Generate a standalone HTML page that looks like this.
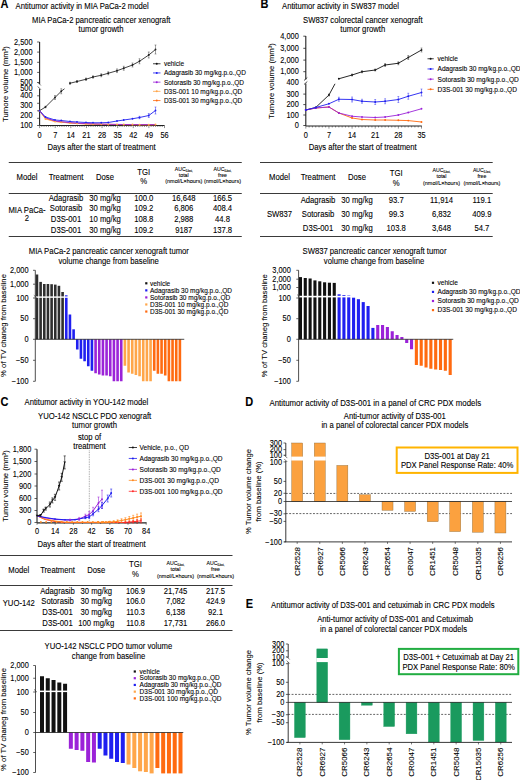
<!DOCTYPE html>
<html><head><meta charset="utf-8"><style>
html,body{margin:0;padding:0;background:#fff;width:520px;height:780px;overflow:hidden}
svg{display:block}
text{font-family:"Liberation Sans",sans-serif;fill:#000;stroke:#000;stroke-width:0.09px}
</style></head><body>
<svg width="520" height="780" viewBox="0 0 520 780">
<rect width="520" height="780" fill="#fff"/>
<text transform="translate(0.40,8.00) scale(1,1.1)" font-size="11" text-anchor="start" font-weight="bold" >A</text>
<text transform="translate(15.50,8.80) scale(1,1.1)" font-size="7.7" text-anchor="start" >Antitumor activity in MIA PaCa-2 model</text>
<text transform="translate(32.00,23.00) scale(1,1.1)" font-size="7.7" text-anchor="start" >MIA PaCa-2 pancreatic cancer xenograft</text>
<text transform="translate(101.00,32.00) scale(1,1.1)" font-size="7.7" text-anchor="middle" >tumor growth</text>
<line x1="39.60" y1="42.00" x2="39.60" y2="84.00" stroke="#222" stroke-width="1.1" />
<line x1="39.60" y1="89.00" x2="39.60" y2="125.50" stroke="#222" stroke-width="1.1" />
<line x1="37.80" y1="82.30" x2="40.80" y2="85.40" stroke="#222" stroke-width="0.7" />
<line x1="37.80" y1="86.50" x2="40.80" y2="89.60" stroke="#222" stroke-width="0.7" />
<line x1="37.10" y1="42.00" x2="39.60" y2="42.00" stroke="#222" stroke-width="0.7" />
<text transform="translate(32.50,44.60) scale(1,1.1)" font-size="7.4" text-anchor="end" >2,500</text>
<line x1="37.10" y1="52.10" x2="39.60" y2="52.10" stroke="#222" stroke-width="0.7" />
<text transform="translate(32.50,54.70) scale(1,1.1)" font-size="7.4" text-anchor="end" >2,000</text>
<line x1="37.10" y1="62.30" x2="39.60" y2="62.30" stroke="#222" stroke-width="0.7" />
<text transform="translate(32.50,64.90) scale(1,1.1)" font-size="7.4" text-anchor="end" >1,500</text>
<line x1="37.10" y1="72.40" x2="39.60" y2="72.40" stroke="#222" stroke-width="0.7" />
<text transform="translate(32.50,75.00) scale(1,1.1)" font-size="7.4" text-anchor="end" >1,000</text>
<line x1="37.10" y1="82.50" x2="39.60" y2="82.50" stroke="#222" stroke-width="0.7" />
<text transform="translate(32.50,85.10) scale(1,1.1)" font-size="7.4" text-anchor="end" >500</text>
<text transform="translate(32.50,91.40) scale(1,1.1)" font-size="7.4" text-anchor="end" >500</text>
<text transform="translate(32.50,98.20) scale(1,1.1)" font-size="7.4" text-anchor="end" >400</text>
<text transform="translate(32.50,108.00) scale(1,1.1)" font-size="7.4" text-anchor="end" >300</text>
<text transform="translate(32.50,118.00) scale(1,1.1)" font-size="7.4" text-anchor="end" >200</text>
<text transform="translate(32.50,127.80) scale(1,1.1)" font-size="7.4" text-anchor="end" >100</text>
<line x1="37.10" y1="95.80" x2="39.60" y2="95.80" stroke="#222" stroke-width="0.7" />
<line x1="37.10" y1="103.30" x2="39.60" y2="103.30" stroke="#222" stroke-width="0.7" />
<line x1="37.10" y1="110.80" x2="39.60" y2="110.80" stroke="#222" stroke-width="0.7" />
<line x1="37.10" y1="118.30" x2="39.60" y2="118.30" stroke="#222" stroke-width="0.7" />
<line x1="37.10" y1="125.50" x2="39.60" y2="125.50" stroke="#222" stroke-width="0.7" />
<text x="0" y="0" font-size="7.7" text-anchor="middle" transform="translate(8.30,84.00) rotate(-90)" >Tumore volume (mm³)</text>
<line x1="39.60" y1="125.50" x2="164.50" y2="125.50" stroke="#222" stroke-width="1.1" />
<line x1="39.60" y1="125.50" x2="39.60" y2="128.10" stroke="#222" stroke-width="0.5" />
<line x1="41.83" y1="125.50" x2="41.83" y2="127.00" stroke="#222" stroke-width="0.5" />
<line x1="44.06" y1="125.50" x2="44.06" y2="127.00" stroke="#222" stroke-width="0.5" />
<line x1="46.29" y1="125.50" x2="46.29" y2="127.00" stroke="#222" stroke-width="0.5" />
<line x1="48.52" y1="125.50" x2="48.52" y2="127.00" stroke="#222" stroke-width="0.5" />
<line x1="50.75" y1="125.50" x2="50.75" y2="127.00" stroke="#222" stroke-width="0.5" />
<line x1="52.98" y1="125.50" x2="52.98" y2="127.00" stroke="#222" stroke-width="0.5" />
<line x1="55.21" y1="125.50" x2="55.21" y2="128.10" stroke="#222" stroke-width="0.5" />
<line x1="57.44" y1="125.50" x2="57.44" y2="127.00" stroke="#222" stroke-width="0.5" />
<line x1="59.67" y1="125.50" x2="59.67" y2="127.00" stroke="#222" stroke-width="0.5" />
<line x1="61.90" y1="125.50" x2="61.90" y2="127.00" stroke="#222" stroke-width="0.5" />
<line x1="64.13" y1="125.50" x2="64.13" y2="127.00" stroke="#222" stroke-width="0.5" />
<line x1="66.36" y1="125.50" x2="66.36" y2="127.00" stroke="#222" stroke-width="0.5" />
<line x1="68.59" y1="125.50" x2="68.59" y2="127.00" stroke="#222" stroke-width="0.5" />
<line x1="70.83" y1="125.50" x2="70.83" y2="128.10" stroke="#222" stroke-width="0.5" />
<line x1="73.06" y1="125.50" x2="73.06" y2="127.00" stroke="#222" stroke-width="0.5" />
<line x1="75.29" y1="125.50" x2="75.29" y2="127.00" stroke="#222" stroke-width="0.5" />
<line x1="77.52" y1="125.50" x2="77.52" y2="127.00" stroke="#222" stroke-width="0.5" />
<line x1="79.75" y1="125.50" x2="79.75" y2="127.00" stroke="#222" stroke-width="0.5" />
<line x1="81.98" y1="125.50" x2="81.98" y2="127.00" stroke="#222" stroke-width="0.5" />
<line x1="84.21" y1="125.50" x2="84.21" y2="127.00" stroke="#222" stroke-width="0.5" />
<line x1="86.44" y1="125.50" x2="86.44" y2="128.10" stroke="#222" stroke-width="0.5" />
<line x1="88.67" y1="125.50" x2="88.67" y2="127.00" stroke="#222" stroke-width="0.5" />
<line x1="90.90" y1="125.50" x2="90.90" y2="127.00" stroke="#222" stroke-width="0.5" />
<line x1="93.13" y1="125.50" x2="93.13" y2="127.00" stroke="#222" stroke-width="0.5" />
<line x1="95.36" y1="125.50" x2="95.36" y2="127.00" stroke="#222" stroke-width="0.5" />
<line x1="97.59" y1="125.50" x2="97.59" y2="127.00" stroke="#222" stroke-width="0.5" />
<line x1="99.82" y1="125.50" x2="99.82" y2="127.00" stroke="#222" stroke-width="0.5" />
<line x1="102.05" y1="125.50" x2="102.05" y2="128.10" stroke="#222" stroke-width="0.5" />
<line x1="104.28" y1="125.50" x2="104.28" y2="127.00" stroke="#222" stroke-width="0.5" />
<line x1="106.51" y1="125.50" x2="106.51" y2="127.00" stroke="#222" stroke-width="0.5" />
<line x1="108.74" y1="125.50" x2="108.74" y2="127.00" stroke="#222" stroke-width="0.5" />
<line x1="110.97" y1="125.50" x2="110.97" y2="127.00" stroke="#222" stroke-width="0.5" />
<line x1="113.20" y1="125.50" x2="113.20" y2="127.00" stroke="#222" stroke-width="0.5" />
<line x1="115.43" y1="125.50" x2="115.43" y2="127.00" stroke="#222" stroke-width="0.5" />
<line x1="117.66" y1="125.50" x2="117.66" y2="128.10" stroke="#222" stroke-width="0.5" />
<line x1="119.89" y1="125.50" x2="119.89" y2="127.00" stroke="#222" stroke-width="0.5" />
<line x1="122.12" y1="125.50" x2="122.12" y2="127.00" stroke="#222" stroke-width="0.5" />
<line x1="124.35" y1="125.50" x2="124.35" y2="127.00" stroke="#222" stroke-width="0.5" />
<line x1="126.58" y1="125.50" x2="126.58" y2="127.00" stroke="#222" stroke-width="0.5" />
<line x1="128.81" y1="125.50" x2="128.81" y2="127.00" stroke="#222" stroke-width="0.5" />
<line x1="131.04" y1="125.50" x2="131.04" y2="127.00" stroke="#222" stroke-width="0.5" />
<line x1="133.28" y1="125.50" x2="133.28" y2="128.10" stroke="#222" stroke-width="0.5" />
<line x1="135.51" y1="125.50" x2="135.51" y2="127.00" stroke="#222" stroke-width="0.5" />
<line x1="137.74" y1="125.50" x2="137.74" y2="127.00" stroke="#222" stroke-width="0.5" />
<line x1="139.97" y1="125.50" x2="139.97" y2="127.00" stroke="#222" stroke-width="0.5" />
<line x1="142.20" y1="125.50" x2="142.20" y2="127.00" stroke="#222" stroke-width="0.5" />
<line x1="144.43" y1="125.50" x2="144.43" y2="127.00" stroke="#222" stroke-width="0.5" />
<line x1="146.66" y1="125.50" x2="146.66" y2="127.00" stroke="#222" stroke-width="0.5" />
<line x1="148.89" y1="125.50" x2="148.89" y2="128.10" stroke="#222" stroke-width="0.5" />
<line x1="151.12" y1="125.50" x2="151.12" y2="127.00" stroke="#222" stroke-width="0.5" />
<line x1="153.35" y1="125.50" x2="153.35" y2="127.00" stroke="#222" stroke-width="0.5" />
<line x1="155.58" y1="125.50" x2="155.58" y2="127.00" stroke="#222" stroke-width="0.5" />
<line x1="157.81" y1="125.50" x2="157.81" y2="127.00" stroke="#222" stroke-width="0.5" />
<line x1="160.04" y1="125.50" x2="160.04" y2="127.00" stroke="#222" stroke-width="0.5" />
<line x1="162.27" y1="125.50" x2="162.27" y2="127.00" stroke="#222" stroke-width="0.5" />
<line x1="164.50" y1="125.50" x2="164.50" y2="128.10" stroke="#222" stroke-width="0.5" />
<text transform="translate(39.60,137.50) scale(1,1.1)" font-size="7.4" text-anchor="middle" >0</text>
<text transform="translate(55.21,137.50) scale(1,1.1)" font-size="7.4" text-anchor="middle" >7</text>
<text transform="translate(70.83,137.50) scale(1,1.1)" font-size="7.4" text-anchor="middle" >14</text>
<text transform="translate(86.44,137.50) scale(1,1.1)" font-size="7.4" text-anchor="middle" >21</text>
<text transform="translate(102.05,137.50) scale(1,1.1)" font-size="7.4" text-anchor="middle" >28</text>
<text transform="translate(117.66,137.50) scale(1,1.1)" font-size="7.4" text-anchor="middle" >35</text>
<text transform="translate(133.28,137.50) scale(1,1.1)" font-size="7.4" text-anchor="middle" >42</text>
<text transform="translate(148.89,137.50) scale(1,1.1)" font-size="7.4" text-anchor="middle" >49</text>
<text transform="translate(164.50,137.50) scale(1,1.1)" font-size="7.4" text-anchor="middle" >56</text>
<text transform="translate(47.50,150.00) scale(1,1.1)" font-size="7.7" text-anchor="start" >Days after the start of treatment</text>
<polyline points="39.50,110.75 45.50,107.00 55.00,97.50 61.25,91.25 64.50,88.75" fill="none" stroke="#111" stroke-width="0.8" stroke-linejoin="round" />
<polyline points="70.00,83.25 77.00,81.50 86.00,79.25 93.00,77.00 101.25,75.25 108.25,73.25 117.00,70.75 123.75,68.25 132.50,65.00 139.50,61.25 148.75,55.00 155.50,49.50" fill="none" stroke="#111" stroke-width="0.8" stroke-linejoin="round" />
<circle cx="39.50" cy="110.75" r="0.9" fill="#111"/>
<circle cx="45.50" cy="107.00" r="0.9" fill="#111"/>
<line x1="45.50" y1="106.20" x2="45.50" y2="107.80" stroke="#333" stroke-width="0.45" />
<line x1="44.60" y1="106.20" x2="46.40" y2="106.20" stroke="#333" stroke-width="0.45" />
<line x1="44.60" y1="107.80" x2="46.40" y2="107.80" stroke="#333" stroke-width="0.45" />
<circle cx="55.00" cy="97.50" r="0.9" fill="#111"/>
<line x1="55.00" y1="95.50" x2="55.00" y2="99.50" stroke="#333" stroke-width="0.45" />
<line x1="54.10" y1="95.50" x2="55.90" y2="95.50" stroke="#333" stroke-width="0.45" />
<line x1="54.10" y1="99.50" x2="55.90" y2="99.50" stroke="#333" stroke-width="0.45" />
<circle cx="61.25" cy="91.25" r="0.9" fill="#111"/>
<line x1="61.25" y1="88.75" x2="61.25" y2="93.75" stroke="#333" stroke-width="0.45" />
<line x1="60.35" y1="88.75" x2="62.15" y2="88.75" stroke="#333" stroke-width="0.45" />
<line x1="60.35" y1="93.75" x2="62.15" y2="93.75" stroke="#333" stroke-width="0.45" />
<circle cx="70.00" cy="83.25" r="0.9" fill="#111"/>
<line x1="70.00" y1="82.25" x2="70.00" y2="84.25" stroke="#333" stroke-width="0.45" />
<line x1="69.10" y1="82.25" x2="70.90" y2="82.25" stroke="#333" stroke-width="0.45" />
<line x1="69.10" y1="84.25" x2="70.90" y2="84.25" stroke="#333" stroke-width="0.45" />
<circle cx="77.00" cy="81.50" r="0.9" fill="#111"/>
<line x1="77.00" y1="80.50" x2="77.00" y2="82.50" stroke="#333" stroke-width="0.45" />
<line x1="76.10" y1="80.50" x2="77.90" y2="80.50" stroke="#333" stroke-width="0.45" />
<line x1="76.10" y1="82.50" x2="77.90" y2="82.50" stroke="#333" stroke-width="0.45" />
<circle cx="86.00" cy="79.25" r="0.9" fill="#111"/>
<line x1="86.00" y1="78.05" x2="86.00" y2="80.45" stroke="#333" stroke-width="0.45" />
<line x1="85.10" y1="78.05" x2="86.90" y2="78.05" stroke="#333" stroke-width="0.45" />
<line x1="85.10" y1="80.45" x2="86.90" y2="80.45" stroke="#333" stroke-width="0.45" />
<circle cx="93.00" cy="77.00" r="0.9" fill="#111"/>
<line x1="93.00" y1="75.80" x2="93.00" y2="78.20" stroke="#333" stroke-width="0.45" />
<line x1="92.10" y1="75.80" x2="93.90" y2="75.80" stroke="#333" stroke-width="0.45" />
<line x1="92.10" y1="78.20" x2="93.90" y2="78.20" stroke="#333" stroke-width="0.45" />
<circle cx="101.25" cy="75.25" r="0.9" fill="#111"/>
<line x1="101.25" y1="73.75" x2="101.25" y2="76.75" stroke="#333" stroke-width="0.45" />
<line x1="100.35" y1="73.75" x2="102.15" y2="73.75" stroke="#333" stroke-width="0.45" />
<line x1="100.35" y1="76.75" x2="102.15" y2="76.75" stroke="#333" stroke-width="0.45" />
<circle cx="108.25" cy="73.25" r="0.9" fill="#111"/>
<line x1="108.25" y1="71.75" x2="108.25" y2="74.75" stroke="#333" stroke-width="0.45" />
<line x1="107.35" y1="71.75" x2="109.15" y2="71.75" stroke="#333" stroke-width="0.45" />
<line x1="107.35" y1="74.75" x2="109.15" y2="74.75" stroke="#333" stroke-width="0.45" />
<circle cx="117.00" cy="70.75" r="0.9" fill="#111"/>
<line x1="117.00" y1="68.95" x2="117.00" y2="72.55" stroke="#333" stroke-width="0.45" />
<line x1="116.10" y1="68.95" x2="117.90" y2="68.95" stroke="#333" stroke-width="0.45" />
<line x1="116.10" y1="72.55" x2="117.90" y2="72.55" stroke="#333" stroke-width="0.45" />
<circle cx="123.75" cy="68.25" r="0.9" fill="#111"/>
<line x1="123.75" y1="66.25" x2="123.75" y2="70.25" stroke="#333" stroke-width="0.45" />
<line x1="122.85" y1="66.25" x2="124.65" y2="66.25" stroke="#333" stroke-width="0.45" />
<line x1="122.85" y1="70.25" x2="124.65" y2="70.25" stroke="#333" stroke-width="0.45" />
<circle cx="132.50" cy="65.00" r="0.9" fill="#111"/>
<line x1="132.50" y1="63.00" x2="132.50" y2="67.00" stroke="#333" stroke-width="0.45" />
<line x1="131.60" y1="63.00" x2="133.40" y2="63.00" stroke="#333" stroke-width="0.45" />
<line x1="131.60" y1="67.00" x2="133.40" y2="67.00" stroke="#333" stroke-width="0.45" />
<circle cx="139.50" cy="61.25" r="0.9" fill="#111"/>
<line x1="139.50" y1="58.75" x2="139.50" y2="63.75" stroke="#333" stroke-width="0.45" />
<line x1="138.60" y1="58.75" x2="140.40" y2="58.75" stroke="#333" stroke-width="0.45" />
<line x1="138.60" y1="63.75" x2="140.40" y2="63.75" stroke="#333" stroke-width="0.45" />
<circle cx="148.75" cy="55.00" r="0.9" fill="#111"/>
<line x1="148.75" y1="52.00" x2="148.75" y2="58.00" stroke="#333" stroke-width="0.45" />
<line x1="147.85" y1="52.00" x2="149.65" y2="52.00" stroke="#333" stroke-width="0.45" />
<line x1="147.85" y1="58.00" x2="149.65" y2="58.00" stroke="#333" stroke-width="0.45" />
<circle cx="155.50" cy="49.50" r="0.9" fill="#111"/>
<line x1="155.50" y1="45.00" x2="155.50" y2="54.00" stroke="#333" stroke-width="0.45" />
<line x1="154.60" y1="45.00" x2="156.40" y2="45.00" stroke="#333" stroke-width="0.45" />
<line x1="154.60" y1="54.00" x2="156.40" y2="54.00" stroke="#333" stroke-width="0.45" />
<polyline points="39.50,110.75 45.50,118.50 55.00,121.30 61.25,122.00 70.00,122.90 77.00,123.40 86.00,123.80 93.00,124.10 101.25,124.30 108.25,124.40 117.00,124.50 123.75,124.60 132.50,124.70 139.50,124.70 148.75,124.80 155.50,124.80" fill="none" stroke="#ff6a10" stroke-width="0.9" stroke-linejoin="round" />
<polyline points="39.50,110.75 45.50,119.00 55.00,121.60 61.25,122.20 70.00,123.00 77.00,123.50 86.00,123.90 93.00,124.20 101.25,124.30 108.25,124.40 117.00,124.50 123.75,124.60 132.50,124.60 139.50,124.70 148.75,124.70 155.50,124.50" fill="none" stroke="#ffa64a" stroke-width="0.9" stroke-linejoin="round" />
<polyline points="39.50,110.75 45.50,117.80 55.00,121.00 61.25,121.80 70.00,122.60 77.00,123.20 86.00,123.60 93.00,123.90 101.25,124.10 108.25,124.30 117.00,124.40 123.75,124.50 132.50,124.60 139.50,124.60 148.75,124.60 155.50,124.60" fill="none" stroke="#9b22d8" stroke-width="0.9" stroke-linejoin="round" />
<polyline points="39.50,110.75 45.50,117.00 55.00,120.00 61.25,120.50 70.00,121.50 77.00,122.00 86.00,122.50 93.00,122.75 101.25,122.75 108.25,122.50 117.00,121.00 123.75,120.00 132.50,118.75 139.50,117.50 148.75,115.50 155.50,110.50" fill="none" stroke="#1f1ff0" stroke-width="0.9" stroke-linejoin="round" />
<circle cx="39.50" cy="110.75" r="1.0" fill="#ffa64a"/>
<circle cx="45.50" cy="119.00" r="1.0" fill="#ffa64a"/>
<circle cx="55.00" cy="121.60" r="1.0" fill="#ffa64a"/>
<circle cx="61.25" cy="122.20" r="1.0" fill="#ffa64a"/>
<circle cx="70.00" cy="123.00" r="1.0" fill="#ffa64a"/>
<circle cx="77.00" cy="123.50" r="1.0" fill="#ffa64a"/>
<circle cx="86.00" cy="123.90" r="1.0" fill="#ffa64a"/>
<circle cx="93.00" cy="124.20" r="1.0" fill="#ffa64a"/>
<circle cx="101.25" cy="124.30" r="1.0" fill="#ffa64a"/>
<circle cx="108.25" cy="124.40" r="1.0" fill="#ffa64a"/>
<circle cx="117.00" cy="124.50" r="1.0" fill="#ffa64a"/>
<circle cx="123.75" cy="124.60" r="1.0" fill="#ffa64a"/>
<circle cx="132.50" cy="124.60" r="1.0" fill="#ffa64a"/>
<circle cx="139.50" cy="124.70" r="1.0" fill="#ffa64a"/>
<circle cx="148.75" cy="124.70" r="1.0" fill="#ffa64a"/>
<circle cx="155.50" cy="124.50" r="1.0" fill="#ffa64a"/>
<circle cx="39.50" cy="110.75" r="0.9" fill="#1f1ff0"/>
<circle cx="45.50" cy="117.00" r="0.9" fill="#1f1ff0"/>
<circle cx="55.00" cy="120.00" r="0.9" fill="#1f1ff0"/>
<circle cx="61.25" cy="120.50" r="0.9" fill="#1f1ff0"/>
<circle cx="70.00" cy="121.50" r="0.9" fill="#1f1ff0"/>
<circle cx="77.00" cy="122.00" r="0.9" fill="#1f1ff0"/>
<circle cx="86.00" cy="122.50" r="0.9" fill="#1f1ff0"/>
<circle cx="93.00" cy="122.75" r="0.9" fill="#1f1ff0"/>
<circle cx="101.25" cy="122.75" r="0.9" fill="#1f1ff0"/>
<circle cx="108.25" cy="122.50" r="0.9" fill="#1f1ff0"/>
<circle cx="117.00" cy="121.00" r="0.9" fill="#1f1ff0"/>
<circle cx="123.75" cy="120.00" r="0.9" fill="#1f1ff0"/>
<circle cx="132.50" cy="118.75" r="0.9" fill="#1f1ff0"/>
<circle cx="139.50" cy="117.50" r="0.9" fill="#1f1ff0"/>
<circle cx="148.75" cy="115.50" r="0.9" fill="#1f1ff0"/>
<circle cx="155.50" cy="110.50" r="0.9" fill="#1f1ff0"/>
<line x1="148.75" y1="113.50" x2="148.75" y2="117.50" stroke="#1f1ff0" stroke-width="0.45" />
<line x1="147.85" y1="113.50" x2="149.65" y2="113.50" stroke="#1f1ff0" stroke-width="0.45" />
<line x1="147.85" y1="117.50" x2="149.65" y2="117.50" stroke="#1f1ff0" stroke-width="0.45" />
<line x1="155.50" y1="107.00" x2="155.50" y2="114.00" stroke="#1f1ff0" stroke-width="0.45" />
<line x1="154.60" y1="107.00" x2="156.40" y2="107.00" stroke="#1f1ff0" stroke-width="0.45" />
<line x1="154.60" y1="114.00" x2="156.40" y2="114.00" stroke="#1f1ff0" stroke-width="0.45" />
<line x1="139.50" y1="116.30" x2="139.50" y2="118.70" stroke="#1f1ff0" stroke-width="0.45" />
<line x1="138.60" y1="116.30" x2="140.40" y2="116.30" stroke="#1f1ff0" stroke-width="0.45" />
<line x1="138.60" y1="118.70" x2="140.40" y2="118.70" stroke="#1f1ff0" stroke-width="0.45" />
<line x1="153.00" y1="63.75" x2="160.50" y2="63.75" stroke="#111" stroke-width="0.8" />
<circle cx="156.75" cy="63.75" r="1.0" fill="#111"/>
<text transform="translate(163.90,66.15) scale(1,1.1)" font-size="6.5" text-anchor="start" >vehicle</text>
<line x1="153.00" y1="72.95" x2="160.50" y2="72.95" stroke="#1f1ff0" stroke-width="0.8" />
<circle cx="156.75" cy="72.95" r="1.0" fill="#1f1ff0"/>
<text transform="translate(163.90,75.35) scale(1,1.1)" font-size="6.5" text-anchor="start" >Adagrasib 30 mg/kg.p.o.,QD</text>
<line x1="153.00" y1="82.15" x2="160.50" y2="82.15" stroke="#9b22d8" stroke-width="0.8" />
<circle cx="156.75" cy="82.15" r="1.0" fill="#9b22d8"/>
<text transform="translate(163.90,84.55) scale(1,1.1)" font-size="6.5" text-anchor="start" >Sotorasib 30 mg/kg.p.o.,QD</text>
<line x1="153.00" y1="91.35" x2="160.50" y2="91.35" stroke="#ffa64a" stroke-width="0.8" />
<circle cx="156.75" cy="91.35" r="1.0" fill="#ffa64a"/>
<text transform="translate(163.90,93.75) scale(1,1.1)" font-size="6.5" text-anchor="start" >D3S-001 10 mg/kg.p.o.,QD</text>
<line x1="153.00" y1="100.55" x2="160.50" y2="100.55" stroke="#ff6a10" stroke-width="0.8" />
<circle cx="156.75" cy="100.55" r="1.0" fill="#ff6a10"/>
<text transform="translate(163.90,102.95) scale(1,1.1)" font-size="6.5" text-anchor="start" >D3S-001 30 mg/kg.p.o.,QD</text>
<line x1="8.75" y1="162.50" x2="241.75" y2="162.50" stroke="#3a3a3a" stroke-width="1.0" />
<line x1="8.75" y1="193.50" x2="241.75" y2="193.50" stroke="#3a3a3a" stroke-width="1.0" />
<line x1="8.75" y1="236.50" x2="241.75" y2="236.50" stroke="#3a3a3a" stroke-width="1.0" />
<text transform="translate(27.00,179.50) scale(1,1.1)" font-size="7.7" text-anchor="middle" >Model</text>
<text transform="translate(66.00,179.50) scale(1,1.1)" font-size="7.7" text-anchor="middle" >Treatment</text>
<text transform="translate(105.00,179.50) scale(1,1.1)" font-size="7.7" text-anchor="middle" >Dose</text>
<text transform="translate(143.75,175.00) scale(1,1.1)" font-size="7.7" text-anchor="middle" >TGI</text>
<text transform="translate(143.75,183.75) scale(1,1.1)" font-size="7.7" text-anchor="middle" >%</text>
<text transform="translate(183.75,170.50) scale(1,1.1)" font-size="5.2" text-anchor="middle">AUC<tspan font-size="2.6" dy="1">0-last,</tspan></text>
<text transform="translate(183.75,176.50) scale(1,1.1)" font-size="5.2" text-anchor="middle" >total</text>
<text transform="translate(183.75,183.30) scale(1,1.1)" font-size="5.5" text-anchor="middle" >(nmol/L×hours)</text>
<text transform="translate(222.50,170.50) scale(1,1.1)" font-size="5.2" text-anchor="middle">AUC<tspan font-size="2.6" dy="1">0-last,</tspan></text>
<text transform="translate(222.50,176.50) scale(1,1.1)" font-size="5.2" text-anchor="middle" >free</text>
<text transform="translate(222.50,183.30) scale(1,1.1)" font-size="5.5" text-anchor="middle" >(nmol/L×hours)</text>
<text transform="translate(66.00,200.50) scale(1,1.1)" font-size="7.7" text-anchor="middle" >Adagrasib</text>
<text transform="translate(105.00,200.50) scale(1,1.1)" font-size="7.7" text-anchor="middle" >30 mg/kg</text>
<text transform="translate(143.75,200.50) scale(1,1.1)" font-size="7.7" text-anchor="middle" >100.0</text>
<text transform="translate(183.75,200.50) scale(1,1.1)" font-size="7.7" text-anchor="middle" >16,648</text>
<text transform="translate(222.50,200.50) scale(1,1.1)" font-size="7.7" text-anchor="middle" >166.5</text>
<text transform="translate(66.00,211.25) scale(1,1.1)" font-size="7.7" text-anchor="middle" >Sotorasib</text>
<text transform="translate(105.00,211.25) scale(1,1.1)" font-size="7.7" text-anchor="middle" >30 mg/kg</text>
<text transform="translate(143.75,211.25) scale(1,1.1)" font-size="7.7" text-anchor="middle" >109.2</text>
<text transform="translate(183.75,211.25) scale(1,1.1)" font-size="7.7" text-anchor="middle" >6,806</text>
<text transform="translate(222.50,211.25) scale(1,1.1)" font-size="7.7" text-anchor="middle" >408.4</text>
<text transform="translate(66.00,222.00) scale(1,1.1)" font-size="7.7" text-anchor="middle" >D3S-001</text>
<text transform="translate(105.00,222.00) scale(1,1.1)" font-size="7.7" text-anchor="middle" >10 mg/kg</text>
<text transform="translate(143.75,222.00) scale(1,1.1)" font-size="7.7" text-anchor="middle" >108.8</text>
<text transform="translate(183.75,222.00) scale(1,1.1)" font-size="7.7" text-anchor="middle" >2,988</text>
<text transform="translate(222.50,222.00) scale(1,1.1)" font-size="7.7" text-anchor="middle" >44.8</text>
<text transform="translate(66.00,233.00) scale(1,1.1)" font-size="7.7" text-anchor="middle" >D3S-001</text>
<text transform="translate(105.00,233.00) scale(1,1.1)" font-size="7.7" text-anchor="middle" >30 mg/kg</text>
<text transform="translate(143.75,233.00) scale(1,1.1)" font-size="7.7" text-anchor="middle" >109.2</text>
<text transform="translate(183.75,233.00) scale(1,1.1)" font-size="7.7" text-anchor="middle" >9187</text>
<text transform="translate(222.50,233.00) scale(1,1.1)" font-size="7.7" text-anchor="middle" >137.8</text>
<text transform="translate(27.00,212.50) scale(1,1.1)" font-size="7.7" text-anchor="middle" >MIA PaCa-</text>
<text transform="translate(27.00,221.25) scale(1,1.1)" font-size="7.7" text-anchor="middle" >2</text>
<text transform="translate(28.75,254.20) scale(1,1.1)" font-size="7.7" text-anchor="start" >MIA PaCa-2 pancreatic cancer xenograft tumor</text>
<text transform="translate(108.70,263.60) scale(1,1.1)" font-size="7.7" text-anchor="middle" >volume change from baseline</text>
<line x1="33.00" y1="270.30" x2="35.30" y2="270.30" stroke="#222" stroke-width="0.7" />
<text transform="translate(28.50,272.90) scale(1,1.1)" font-size="7.4" text-anchor="end" >2,000</text>
<line x1="33.00" y1="284.20" x2="35.30" y2="284.20" stroke="#222" stroke-width="0.7" />
<text transform="translate(28.50,286.80) scale(1,1.1)" font-size="7.4" text-anchor="end" >1,000</text>
<line x1="33.00" y1="298.00" x2="35.30" y2="298.00" stroke="#222" stroke-width="0.7" />
<text transform="translate(28.50,300.60) scale(1,1.1)" font-size="7.4" text-anchor="end" >100</text>
<line x1="33.00" y1="318.70" x2="35.30" y2="318.70" stroke="#222" stroke-width="0.7" />
<text transform="translate(28.50,321.30) scale(1,1.1)" font-size="7.4" text-anchor="end" >50</text>
<line x1="33.00" y1="339.30" x2="35.30" y2="339.30" stroke="#222" stroke-width="0.7" />
<text transform="translate(28.50,341.90) scale(1,1.1)" font-size="7.4" text-anchor="end" >0</text>
<line x1="33.00" y1="360.30" x2="35.30" y2="360.30" stroke="#222" stroke-width="0.7" />
<text transform="translate(28.50,362.90) scale(1,1.1)" font-size="7.4" text-anchor="end" >−50</text>
<line x1="33.00" y1="381.30" x2="35.30" y2="381.30" stroke="#222" stroke-width="0.7" />
<text transform="translate(28.50,383.90) scale(1,1.1)" font-size="7.4" text-anchor="end" >−100</text>
<rect x="35.65" y="274.50" width="2.60" height="64.80" fill="#2e2e2e" />
<rect x="39.31" y="281.90" width="2.60" height="57.40" fill="#2e2e2e" />
<rect x="42.98" y="284.00" width="2.60" height="55.30" fill="#2e2e2e" />
<rect x="46.64" y="284.00" width="2.60" height="55.30" fill="#2e2e2e" />
<rect x="50.31" y="284.20" width="2.60" height="55.10" fill="#2e2e2e" />
<rect x="53.97" y="284.60" width="2.60" height="54.70" fill="#2e2e2e" />
<rect x="57.64" y="285.80" width="2.60" height="53.50" fill="#2e2e2e" />
<rect x="61.30" y="292.00" width="2.60" height="47.30" fill="#2e2e2e" />
<rect x="64.97" y="295.30" width="2.60" height="44.00" fill="#1f1ff0" />
<rect x="68.63" y="314.50" width="2.60" height="24.80" fill="#1f1ff0" />
<rect x="72.30" y="329.30" width="2.60" height="10.00" fill="#1f1ff0" />
<rect x="75.97" y="339.30" width="2.60" height="10.20" fill="#1f1ff0" />
<rect x="79.63" y="339.30" width="2.60" height="19.45" fill="#1f1ff0" />
<rect x="83.30" y="339.30" width="2.60" height="21.95" fill="#1f1ff0" />
<rect x="86.96" y="339.30" width="2.60" height="26.95" fill="#1f1ff0" />
<rect x="90.62" y="339.30" width="2.60" height="31.45" fill="#1f1ff0" />
<rect x="94.29" y="339.30" width="2.60" height="33.95" fill="#9b22d8" />
<rect x="97.95" y="339.30" width="2.60" height="35.20" fill="#9b22d8" />
<rect x="101.62" y="339.30" width="2.60" height="36.20" fill="#9b22d8" />
<rect x="105.28" y="339.30" width="2.60" height="36.20" fill="#9b22d8" />
<rect x="108.95" y="339.30" width="2.60" height="36.95" fill="#9b22d8" />
<rect x="112.62" y="339.30" width="2.60" height="41.95" fill="#9b22d8" />
<rect x="116.28" y="339.30" width="2.60" height="41.95" fill="#9b22d8" />
<rect x="119.94" y="339.30" width="2.60" height="41.95" fill="#9b22d8" />
<rect x="123.61" y="339.30" width="2.60" height="26.45" fill="#ffa64a" />
<rect x="127.28" y="339.30" width="2.60" height="33.20" fill="#ffa64a" />
<rect x="130.94" y="339.30" width="2.60" height="34.45" fill="#ffa64a" />
<rect x="134.60" y="339.30" width="2.60" height="35.70" fill="#ffa64a" />
<rect x="138.27" y="339.30" width="2.60" height="36.95" fill="#ffa64a" />
<rect x="141.94" y="339.30" width="2.60" height="41.95" fill="#ffa64a" />
<rect x="145.60" y="339.30" width="2.60" height="41.95" fill="#ffa64a" />
<rect x="149.26" y="339.30" width="2.60" height="41.95" fill="#ffa64a" />
<rect x="152.93" y="339.30" width="2.60" height="31.45" fill="#ff6a10" />
<rect x="156.59" y="339.30" width="2.60" height="34.45" fill="#ff6a10" />
<rect x="160.26" y="339.30" width="2.60" height="34.45" fill="#ff6a10" />
<rect x="163.93" y="339.30" width="2.60" height="36.20" fill="#ff6a10" />
<rect x="167.59" y="339.30" width="2.60" height="41.95" fill="#ff6a10" />
<rect x="171.25" y="339.30" width="2.60" height="41.95" fill="#ff6a10" />
<rect x="174.92" y="339.30" width="2.60" height="41.95" fill="#ff6a10" />
<rect x="178.59" y="339.30" width="2.60" height="41.95" fill="#ff6a10" />
<rect x="35.30" y="296.40" width="33.20" height="1.40" fill="#fff" />
<line x1="35.30" y1="270.30" x2="35.30" y2="381.30" stroke="#222" stroke-width="0.8" />
<line x1="33.80" y1="295.20" x2="36.80" y2="298.00" stroke="#222" stroke-width="0.6" />
<line x1="35.30" y1="339.30" x2="184.25" y2="339.30" stroke="#222" stroke-width="0.8" />
<text x="0" y="0" font-size="7.7" text-anchor="middle" transform="translate(5.90,325.50) rotate(-90)" >% of TV chaneg from baseline</text>
<rect x="145.20" y="282.20" width="2.20" height="2.20" fill="#111" />
<text transform="translate(150.00,285.50) scale(1,1.1)" font-size="6.5" text-anchor="start" >vehicle</text>
<rect x="145.20" y="289.26" width="2.20" height="2.20" fill="#1f1ff0" />
<text transform="translate(150.00,292.56) scale(1,1.1)" font-size="6.5" text-anchor="start" >Adagrasib 30 mg/kg.p.o.,QD</text>
<rect x="145.20" y="296.32" width="2.20" height="2.20" fill="#9b22d8" />
<text transform="translate(150.00,299.62) scale(1,1.1)" font-size="6.5" text-anchor="start" >Sotorasib 30 mg/kg.p.o.,QD</text>
<rect x="145.20" y="303.38" width="2.20" height="2.20" fill="#ffa64a" />
<text transform="translate(150.00,306.68) scale(1,1.1)" font-size="6.5" text-anchor="start" >D3S-001 10 mg/kg.p.o.,QD</text>
<rect x="145.20" y="310.44" width="2.20" height="2.20" fill="#ff6a10" />
<text transform="translate(150.00,313.74) scale(1,1.1)" font-size="6.5" text-anchor="start" >D3S-001 30 mg/kg.p.o.,QD</text>
<text transform="translate(260.60,8.00) scale(1,1.1)" font-size="11" text-anchor="start" font-weight="bold" >B</text>
<text transform="translate(282.00,8.80) scale(1,1.1)" font-size="7.7" text-anchor="start" >Antitumor activity in SW837 model</text>
<text transform="translate(303.00,23.00) scale(1,1.1)" font-size="7.7" text-anchor="start" >SW837 colorectal cancer xenograft</text>
<text transform="translate(362.75,32.00) scale(1,1.1)" font-size="7.7" text-anchor="middle" >tumor growth</text>
<line x1="305.80" y1="36.00" x2="305.80" y2="79.50" stroke="#222" stroke-width="1.1" />
<line x1="305.80" y1="83.50" x2="305.80" y2="126.00" stroke="#222" stroke-width="1.1" />
<line x1="304.00" y1="80.50" x2="307.30" y2="77.50" stroke="#222" stroke-width="0.8" />
<line x1="304.00" y1="84.50" x2="307.30" y2="81.50" stroke="#222" stroke-width="0.8" />
<line x1="303.30" y1="36.20" x2="305.80" y2="36.20" stroke="#222" stroke-width="0.8" />
<line x1="303.30" y1="48.30" x2="305.80" y2="48.30" stroke="#222" stroke-width="0.8" />
<line x1="303.30" y1="60.10" x2="305.80" y2="60.10" stroke="#222" stroke-width="0.8" />
<line x1="303.30" y1="71.70" x2="305.80" y2="71.70" stroke="#222" stroke-width="0.8" />
<line x1="303.30" y1="94.10" x2="305.80" y2="94.10" stroke="#222" stroke-width="0.8" />
<line x1="303.30" y1="104.60" x2="305.80" y2="104.60" stroke="#222" stroke-width="0.8" />
<line x1="303.30" y1="115.00" x2="305.80" y2="115.00" stroke="#222" stroke-width="0.8" />
<line x1="303.30" y1="125.50" x2="305.80" y2="125.50" stroke="#222" stroke-width="0.8" />
<text transform="translate(298.75,38.80) scale(1,1.1)" font-size="7.4" text-anchor="end" >4,000</text>
<text transform="translate(298.75,50.90) scale(1,1.1)" font-size="7.4" text-anchor="end" >3,000</text>
<text transform="translate(298.75,62.70) scale(1,1.1)" font-size="7.4" text-anchor="end" >2,000</text>
<text transform="translate(298.75,74.30) scale(1,1.1)" font-size="7.4" text-anchor="end" >1,000</text>
<text transform="translate(298.75,84.60) scale(1,1.1)" font-size="7.4" text-anchor="end" >400</text>
<text transform="translate(298.75,96.70) scale(1,1.1)" font-size="7.4" text-anchor="end" >300</text>
<text transform="translate(298.75,107.20) scale(1,1.1)" font-size="7.4" text-anchor="end" >200</text>
<text transform="translate(298.75,117.60) scale(1,1.1)" font-size="7.4" text-anchor="end" >100</text>
<text transform="translate(298.75,128.10) scale(1,1.1)" font-size="7.4" text-anchor="end" >0</text>
<text x="0" y="0" font-size="7.7" text-anchor="middle" transform="translate(273.80,81.00) rotate(-90)" >Tumore volume (mm³)</text>
<line x1="305.80" y1="126.00" x2="421.80" y2="126.00" stroke="#222" stroke-width="1.1" />
<line x1="305.80" y1="126.00" x2="305.80" y2="128.60" stroke="#222" stroke-width="0.5" />
<line x1="309.11" y1="126.00" x2="309.11" y2="127.50" stroke="#222" stroke-width="0.5" />
<line x1="312.41" y1="126.00" x2="312.41" y2="127.50" stroke="#222" stroke-width="0.5" />
<line x1="315.72" y1="126.00" x2="315.72" y2="127.50" stroke="#222" stroke-width="0.5" />
<line x1="319.02" y1="126.00" x2="319.02" y2="127.50" stroke="#222" stroke-width="0.5" />
<line x1="322.33" y1="126.00" x2="322.33" y2="127.50" stroke="#222" stroke-width="0.5" />
<line x1="325.63" y1="126.00" x2="325.63" y2="127.50" stroke="#222" stroke-width="0.5" />
<line x1="328.94" y1="126.00" x2="328.94" y2="128.60" stroke="#222" stroke-width="0.5" />
<line x1="332.25" y1="126.00" x2="332.25" y2="127.50" stroke="#222" stroke-width="0.5" />
<line x1="335.55" y1="126.00" x2="335.55" y2="127.50" stroke="#222" stroke-width="0.5" />
<line x1="338.86" y1="126.00" x2="338.86" y2="127.50" stroke="#222" stroke-width="0.5" />
<line x1="342.16" y1="126.00" x2="342.16" y2="127.50" stroke="#222" stroke-width="0.5" />
<line x1="345.47" y1="126.00" x2="345.47" y2="127.50" stroke="#222" stroke-width="0.5" />
<line x1="348.77" y1="126.00" x2="348.77" y2="127.50" stroke="#222" stroke-width="0.5" />
<line x1="352.08" y1="126.00" x2="352.08" y2="128.60" stroke="#222" stroke-width="0.5" />
<line x1="355.39" y1="126.00" x2="355.39" y2="127.50" stroke="#222" stroke-width="0.5" />
<line x1="358.69" y1="126.00" x2="358.69" y2="127.50" stroke="#222" stroke-width="0.5" />
<line x1="362.00" y1="126.00" x2="362.00" y2="127.50" stroke="#222" stroke-width="0.5" />
<line x1="365.30" y1="126.00" x2="365.30" y2="127.50" stroke="#222" stroke-width="0.5" />
<line x1="368.61" y1="126.00" x2="368.61" y2="127.50" stroke="#222" stroke-width="0.5" />
<line x1="371.91" y1="126.00" x2="371.91" y2="127.50" stroke="#222" stroke-width="0.5" />
<line x1="375.22" y1="126.00" x2="375.22" y2="128.60" stroke="#222" stroke-width="0.5" />
<line x1="378.53" y1="126.00" x2="378.53" y2="127.50" stroke="#222" stroke-width="0.5" />
<line x1="381.83" y1="126.00" x2="381.83" y2="127.50" stroke="#222" stroke-width="0.5" />
<line x1="385.14" y1="126.00" x2="385.14" y2="127.50" stroke="#222" stroke-width="0.5" />
<line x1="388.44" y1="126.00" x2="388.44" y2="127.50" stroke="#222" stroke-width="0.5" />
<line x1="391.75" y1="126.00" x2="391.75" y2="127.50" stroke="#222" stroke-width="0.5" />
<line x1="395.05" y1="126.00" x2="395.05" y2="127.50" stroke="#222" stroke-width="0.5" />
<line x1="398.36" y1="126.00" x2="398.36" y2="128.60" stroke="#222" stroke-width="0.5" />
<line x1="401.67" y1="126.00" x2="401.67" y2="127.50" stroke="#222" stroke-width="0.5" />
<line x1="404.97" y1="126.00" x2="404.97" y2="127.50" stroke="#222" stroke-width="0.5" />
<line x1="408.28" y1="126.00" x2="408.28" y2="127.50" stroke="#222" stroke-width="0.5" />
<line x1="411.58" y1="126.00" x2="411.58" y2="127.50" stroke="#222" stroke-width="0.5" />
<line x1="414.89" y1="126.00" x2="414.89" y2="127.50" stroke="#222" stroke-width="0.5" />
<line x1="418.19" y1="126.00" x2="418.19" y2="127.50" stroke="#222" stroke-width="0.5" />
<line x1="421.50" y1="126.00" x2="421.50" y2="128.60" stroke="#222" stroke-width="0.5" />
<text transform="translate(305.80,137.50) scale(1,1.1)" font-size="7.4" text-anchor="middle" >0</text>
<text transform="translate(328.94,137.50) scale(1,1.1)" font-size="7.4" text-anchor="middle" >7</text>
<text transform="translate(352.08,137.50) scale(1,1.1)" font-size="7.4" text-anchor="middle" >14</text>
<text transform="translate(375.22,137.50) scale(1,1.1)" font-size="7.4" text-anchor="middle" >21</text>
<text transform="translate(398.36,137.50) scale(1,1.1)" font-size="7.4" text-anchor="middle" >28</text>
<text transform="translate(421.50,137.50) scale(1,1.1)" font-size="7.4" text-anchor="middle" >35</text>
<text transform="translate(308.70,150.30) scale(1,1.1)" font-size="7.7" text-anchor="start" >Days after the start of treatment</text>
<polyline points="305.80,110.00 315.72,107.50 328.94,95.00 335.00,83.80" fill="none" stroke="#111" stroke-width="0.9" stroke-linejoin="round" />
<polyline points="338.86,78.75 352.08,75.00 362.00,71.75 375.22,70.00 385.14,65.00 398.36,63.25 408.28,57.50 421.50,50.00" fill="none" stroke="#111" stroke-width="0.9" stroke-linejoin="round" />
<circle cx="305.80" cy="110.00" r="0.95" fill="#111"/>
<circle cx="315.72" cy="107.50" r="0.95" fill="#111"/>
<circle cx="328.94" cy="95.00" r="0.95" fill="#111"/>
<circle cx="338.86" cy="78.75" r="0.95" fill="#111"/>
<circle cx="352.08" cy="75.00" r="0.95" fill="#111"/>
<circle cx="362.00" cy="71.75" r="0.95" fill="#111"/>
<circle cx="375.22" cy="70.00" r="0.95" fill="#111"/>
<circle cx="385.14" cy="65.00" r="0.95" fill="#111"/>
<circle cx="398.36" cy="63.25" r="0.95" fill="#111"/>
<circle cx="408.28" cy="57.50" r="0.95" fill="#111"/>
<circle cx="421.50" cy="50.00" r="0.95" fill="#111"/>
<line x1="328.94" y1="94.00" x2="328.94" y2="96.00" stroke="#333" stroke-width="0.45" />
<line x1="328.04" y1="94.00" x2="329.84" y2="94.00" stroke="#333" stroke-width="0.45" />
<line x1="328.04" y1="96.00" x2="329.84" y2="96.00" stroke="#333" stroke-width="0.45" />
<line x1="352.08" y1="74.00" x2="352.08" y2="76.00" stroke="#333" stroke-width="0.45" />
<line x1="351.18" y1="74.00" x2="352.98" y2="74.00" stroke="#333" stroke-width="0.45" />
<line x1="351.18" y1="76.00" x2="352.98" y2="76.00" stroke="#333" stroke-width="0.45" />
<line x1="362.00" y1="70.75" x2="362.00" y2="72.75" stroke="#333" stroke-width="0.45" />
<line x1="361.10" y1="70.75" x2="362.90" y2="70.75" stroke="#333" stroke-width="0.45" />
<line x1="361.10" y1="72.75" x2="362.90" y2="72.75" stroke="#333" stroke-width="0.45" />
<line x1="375.22" y1="69.00" x2="375.22" y2="71.00" stroke="#333" stroke-width="0.45" />
<line x1="374.32" y1="69.00" x2="376.12" y2="69.00" stroke="#333" stroke-width="0.45" />
<line x1="374.32" y1="71.00" x2="376.12" y2="71.00" stroke="#333" stroke-width="0.45" />
<line x1="385.14" y1="63.50" x2="385.14" y2="66.50" stroke="#333" stroke-width="0.45" />
<line x1="384.24" y1="63.50" x2="386.04" y2="63.50" stroke="#333" stroke-width="0.45" />
<line x1="384.24" y1="66.50" x2="386.04" y2="66.50" stroke="#333" stroke-width="0.45" />
<line x1="398.36" y1="61.75" x2="398.36" y2="64.75" stroke="#333" stroke-width="0.45" />
<line x1="397.46" y1="61.75" x2="399.26" y2="61.75" stroke="#333" stroke-width="0.45" />
<line x1="397.46" y1="64.75" x2="399.26" y2="64.75" stroke="#333" stroke-width="0.45" />
<line x1="408.28" y1="55.50" x2="408.28" y2="59.50" stroke="#333" stroke-width="0.45" />
<line x1="407.38" y1="55.50" x2="409.18" y2="55.50" stroke="#333" stroke-width="0.45" />
<line x1="407.38" y1="59.50" x2="409.18" y2="59.50" stroke="#333" stroke-width="0.45" />
<line x1="421.50" y1="48.00" x2="421.50" y2="52.00" stroke="#333" stroke-width="0.45" />
<line x1="420.60" y1="48.00" x2="422.40" y2="48.00" stroke="#333" stroke-width="0.45" />
<line x1="420.60" y1="52.00" x2="422.40" y2="52.00" stroke="#333" stroke-width="0.45" />
<polyline points="305.80,110.00 315.72,108.00 328.94,107.00 338.86,113.00 352.08,118.00 362.00,119.50 375.22,120.00 385.14,120.00 398.36,120.30 408.28,120.60 421.50,122.00" fill="none" stroke="#ff6a10" stroke-width="0.9" stroke-linejoin="round" />
<circle cx="305.80" cy="110.00" r="0.95" fill="#ff6a10"/>
<circle cx="315.72" cy="108.00" r="0.95" fill="#ff6a10"/>
<circle cx="328.94" cy="107.00" r="0.95" fill="#ff6a10"/>
<circle cx="338.86" cy="113.00" r="0.95" fill="#ff6a10"/>
<circle cx="352.08" cy="118.00" r="0.95" fill="#ff6a10"/>
<circle cx="362.00" cy="119.50" r="0.95" fill="#ff6a10"/>
<circle cx="375.22" cy="120.00" r="0.95" fill="#ff6a10"/>
<circle cx="385.14" cy="120.00" r="0.95" fill="#ff6a10"/>
<circle cx="398.36" cy="120.30" r="0.95" fill="#ff6a10"/>
<circle cx="408.28" cy="120.60" r="0.95" fill="#ff6a10"/>
<circle cx="421.50" cy="122.00" r="0.95" fill="#ff6a10"/>
<polyline points="305.80,110.00 315.72,108.00 328.94,107.00 338.86,113.00 352.08,116.25 362.00,117.00 375.22,117.50 385.14,117.00 398.36,115.00 408.28,112.50 421.50,108.75" fill="none" stroke="#9b22d8" stroke-width="0.9" stroke-linejoin="round" />
<circle cx="305.80" cy="110.00" r="0.95" fill="#9b22d8"/>
<circle cx="315.72" cy="108.00" r="0.95" fill="#9b22d8"/>
<circle cx="328.94" cy="107.00" r="0.95" fill="#9b22d8"/>
<circle cx="338.86" cy="113.00" r="0.95" fill="#9b22d8"/>
<circle cx="352.08" cy="116.25" r="0.95" fill="#9b22d8"/>
<circle cx="362.00" cy="117.00" r="0.95" fill="#9b22d8"/>
<circle cx="375.22" cy="117.50" r="0.95" fill="#9b22d8"/>
<circle cx="385.14" cy="117.00" r="0.95" fill="#9b22d8"/>
<circle cx="398.36" cy="115.00" r="0.95" fill="#9b22d8"/>
<circle cx="408.28" cy="112.50" r="0.95" fill="#9b22d8"/>
<circle cx="421.50" cy="108.75" r="0.95" fill="#9b22d8"/>
<polyline points="305.80,110.00 315.72,107.50 328.94,103.75 338.86,99.25 352.08,99.50 362.00,101.25 375.22,102.00 385.14,101.25 398.36,99.50 408.28,96.25 421.50,92.50" fill="none" stroke="#1f1ff0" stroke-width="0.9" stroke-linejoin="round" />
<circle cx="305.80" cy="110.00" r="0.95" fill="#1f1ff0"/>
<circle cx="315.72" cy="107.50" r="0.95" fill="#1f1ff0"/>
<circle cx="328.94" cy="103.75" r="0.95" fill="#1f1ff0"/>
<circle cx="338.86" cy="99.25" r="0.95" fill="#1f1ff0"/>
<circle cx="352.08" cy="99.50" r="0.95" fill="#1f1ff0"/>
<circle cx="362.00" cy="101.25" r="0.95" fill="#1f1ff0"/>
<circle cx="375.22" cy="102.00" r="0.95" fill="#1f1ff0"/>
<circle cx="385.14" cy="101.25" r="0.95" fill="#1f1ff0"/>
<circle cx="398.36" cy="99.50" r="0.95" fill="#1f1ff0"/>
<circle cx="408.28" cy="96.25" r="0.95" fill="#1f1ff0"/>
<circle cx="421.50" cy="92.50" r="0.95" fill="#1f1ff0"/>
<line x1="338.86" y1="97.25" x2="338.86" y2="101.25" stroke="#1f1ff0" stroke-width="0.45" />
<line x1="337.96" y1="97.25" x2="339.76" y2="97.25" stroke="#1f1ff0" stroke-width="0.45" />
<line x1="337.96" y1="101.25" x2="339.76" y2="101.25" stroke="#1f1ff0" stroke-width="0.45" />
<line x1="352.08" y1="97.00" x2="352.08" y2="102.00" stroke="#1f1ff0" stroke-width="0.45" />
<line x1="351.18" y1="97.00" x2="352.98" y2="97.00" stroke="#1f1ff0" stroke-width="0.45" />
<line x1="351.18" y1="102.00" x2="352.98" y2="102.00" stroke="#1f1ff0" stroke-width="0.45" />
<line x1="362.00" y1="99.25" x2="362.00" y2="103.25" stroke="#1f1ff0" stroke-width="0.45" />
<line x1="361.10" y1="99.25" x2="362.90" y2="99.25" stroke="#1f1ff0" stroke-width="0.45" />
<line x1="361.10" y1="103.25" x2="362.90" y2="103.25" stroke="#1f1ff0" stroke-width="0.45" />
<line x1="375.22" y1="99.50" x2="375.22" y2="104.50" stroke="#1f1ff0" stroke-width="0.45" />
<line x1="374.32" y1="99.50" x2="376.12" y2="99.50" stroke="#1f1ff0" stroke-width="0.45" />
<line x1="374.32" y1="104.50" x2="376.12" y2="104.50" stroke="#1f1ff0" stroke-width="0.45" />
<line x1="385.14" y1="98.75" x2="385.14" y2="103.75" stroke="#1f1ff0" stroke-width="0.45" />
<line x1="384.24" y1="98.75" x2="386.04" y2="98.75" stroke="#1f1ff0" stroke-width="0.45" />
<line x1="384.24" y1="103.75" x2="386.04" y2="103.75" stroke="#1f1ff0" stroke-width="0.45" />
<line x1="398.36" y1="96.50" x2="398.36" y2="102.50" stroke="#1f1ff0" stroke-width="0.45" />
<line x1="397.46" y1="96.50" x2="399.26" y2="96.50" stroke="#1f1ff0" stroke-width="0.45" />
<line x1="397.46" y1="102.50" x2="399.26" y2="102.50" stroke="#1f1ff0" stroke-width="0.45" />
<line x1="408.28" y1="93.25" x2="408.28" y2="99.25" stroke="#1f1ff0" stroke-width="0.45" />
<line x1="407.38" y1="93.25" x2="409.18" y2="93.25" stroke="#1f1ff0" stroke-width="0.45" />
<line x1="407.38" y1="99.25" x2="409.18" y2="99.25" stroke="#1f1ff0" stroke-width="0.45" />
<line x1="421.50" y1="89.00" x2="421.50" y2="96.00" stroke="#1f1ff0" stroke-width="0.45" />
<line x1="420.60" y1="89.00" x2="422.40" y2="89.00" stroke="#1f1ff0" stroke-width="0.45" />
<line x1="420.60" y1="96.00" x2="422.40" y2="96.00" stroke="#1f1ff0" stroke-width="0.45" />
<line x1="427.50" y1="58.75" x2="433.75" y2="58.75" stroke="#111" stroke-width="0.8" />
<circle cx="430.60" cy="58.75" r="1.0" fill="#111"/>
<text transform="translate(437.50,61.15) scale(1,1.1)" font-size="6.6" text-anchor="start" >vehicle</text>
<line x1="427.50" y1="68.95" x2="433.75" y2="68.95" stroke="#1f1ff0" stroke-width="0.8" />
<circle cx="430.60" cy="68.95" r="1.0" fill="#1f1ff0"/>
<text transform="translate(437.50,71.35) scale(1,1.1)" font-size="6.6" text-anchor="start" >Adagrasib 30 mg/kg.p.o.,QD</text>
<line x1="427.50" y1="79.15" x2="433.75" y2="79.15" stroke="#9b22d8" stroke-width="0.8" />
<circle cx="430.60" cy="79.15" r="1.0" fill="#9b22d8"/>
<text transform="translate(437.50,81.55) scale(1,1.1)" font-size="6.6" text-anchor="start" >Sotorasib 30 mg/kg.p.o.,QD</text>
<line x1="427.50" y1="89.35" x2="433.75" y2="89.35" stroke="#ff6a10" stroke-width="0.8" />
<circle cx="430.60" cy="89.35" r="1.0" fill="#ff6a10"/>
<text transform="translate(437.50,91.75) scale(1,1.1)" font-size="6.6" text-anchor="start" >D3S-001 30 mg/kg.p.o.,QD</text>
<line x1="260.00" y1="162.50" x2="492.70" y2="162.50" stroke="#3a3a3a" stroke-width="1.0" />
<line x1="260.00" y1="193.50" x2="492.70" y2="193.50" stroke="#3a3a3a" stroke-width="1.0" />
<line x1="260.00" y1="236.50" x2="492.70" y2="236.50" stroke="#3a3a3a" stroke-width="1.0" />
<text transform="translate(279.50,179.90) scale(1,1.1)" font-size="7.7" text-anchor="middle" >Model</text>
<text transform="translate(318.00,179.90) scale(1,1.1)" font-size="7.7" text-anchor="middle" >Treatment</text>
<text transform="translate(357.00,179.90) scale(1,1.1)" font-size="7.7" text-anchor="middle" >Dose</text>
<text transform="translate(396.20,175.80) scale(1,1.1)" font-size="7.7" text-anchor="middle" >TGI</text>
<text transform="translate(396.20,185.50) scale(1,1.1)" font-size="7.7" text-anchor="middle" >%</text>
<text transform="translate(441.50,172.00) scale(1,1.1)" font-size="5.2" text-anchor="middle">AUC<tspan font-size="2.6" dy="1">0-last,</tspan></text>
<text transform="translate(441.50,178.00) scale(1,1.1)" font-size="5.2" text-anchor="middle" >total</text>
<text transform="translate(441.50,184.70) scale(1,1.1)" font-size="5.5" text-anchor="middle" >(nmol/L×hours)</text>
<text transform="translate(481.90,172.00) scale(1,1.1)" font-size="5.2" text-anchor="middle">AUC<tspan font-size="2.6" dy="1">0-last,</tspan></text>
<text transform="translate(481.90,178.00) scale(1,1.1)" font-size="5.2" text-anchor="middle" >free</text>
<text transform="translate(481.90,184.70) scale(1,1.1)" font-size="5.5" text-anchor="middle" >(nmol/L×hours)</text>
<text transform="translate(318.00,203.00) scale(1,1.1)" font-size="7.7" text-anchor="middle" >Adagrasib</text>
<text transform="translate(357.00,203.00) scale(1,1.1)" font-size="7.7" text-anchor="middle" >30 mg/kg</text>
<text transform="translate(396.20,203.00) scale(1,1.1)" font-size="7.7" text-anchor="middle" >93.7</text>
<text transform="translate(441.50,203.00) scale(1,1.1)" font-size="7.7" text-anchor="middle" >11,914</text>
<text transform="translate(481.90,203.00) scale(1,1.1)" font-size="7.7" text-anchor="middle" >119.1</text>
<text transform="translate(318.00,217.25) scale(1,1.1)" font-size="7.7" text-anchor="middle" >Sotorasib</text>
<text transform="translate(357.00,217.25) scale(1,1.1)" font-size="7.7" text-anchor="middle" >30 mg/kg</text>
<text transform="translate(396.20,217.25) scale(1,1.1)" font-size="7.7" text-anchor="middle" >99.3</text>
<text transform="translate(441.50,217.25) scale(1,1.1)" font-size="7.7" text-anchor="middle" >6,832</text>
<text transform="translate(481.90,217.25) scale(1,1.1)" font-size="7.7" text-anchor="middle" >409.9</text>
<text transform="translate(318.00,231.40) scale(1,1.1)" font-size="7.7" text-anchor="middle" >D3S-001</text>
<text transform="translate(357.00,231.40) scale(1,1.1)" font-size="7.7" text-anchor="middle" >30 mg/kg</text>
<text transform="translate(396.20,231.40) scale(1,1.1)" font-size="7.7" text-anchor="middle" >103.8</text>
<text transform="translate(441.50,231.40) scale(1,1.1)" font-size="7.7" text-anchor="middle" >3,648</text>
<text transform="translate(481.90,231.40) scale(1,1.1)" font-size="7.7" text-anchor="middle" >54.7</text>
<text transform="translate(279.50,217.25) scale(1,1.1)" font-size="7.7" text-anchor="middle" >SW837</text>
<text transform="translate(302.50,254.20) scale(1,1.1)" font-size="7.7" text-anchor="start" >SW837 pancreatic cancer xenograft tumor</text>
<text transform="translate(374.00,263.60) scale(1,1.1)" font-size="7.7" text-anchor="middle" >volume change from baseline</text>
<line x1="296.30" y1="270.30" x2="298.60" y2="270.30" stroke="#222" stroke-width="0.7" />
<text transform="translate(290.80,272.90) scale(1,1.1)" font-size="7.4" text-anchor="end" >3,000</text>
<line x1="296.30" y1="279.20" x2="298.60" y2="279.20" stroke="#222" stroke-width="0.7" />
<text transform="translate(290.80,281.80) scale(1,1.1)" font-size="7.4" text-anchor="end" >2,000</text>
<line x1="296.30" y1="287.50" x2="298.60" y2="287.50" stroke="#222" stroke-width="0.7" />
<text transform="translate(290.80,290.10) scale(1,1.1)" font-size="7.4" text-anchor="end" >1,000</text>
<line x1="296.30" y1="298.00" x2="298.60" y2="298.00" stroke="#222" stroke-width="0.7" />
<text transform="translate(290.80,300.60) scale(1,1.1)" font-size="7.4" text-anchor="end" >100</text>
<line x1="296.30" y1="318.70" x2="298.60" y2="318.70" stroke="#222" stroke-width="0.7" />
<text transform="translate(290.80,321.30) scale(1,1.1)" font-size="7.4" text-anchor="end" >50</text>
<line x1="296.30" y1="339.30" x2="298.60" y2="339.30" stroke="#222" stroke-width="0.7" />
<text transform="translate(290.80,341.90) scale(1,1.1)" font-size="7.4" text-anchor="end" >0</text>
<line x1="296.30" y1="360.30" x2="298.60" y2="360.30" stroke="#222" stroke-width="0.7" />
<text transform="translate(290.80,362.90) scale(1,1.1)" font-size="7.4" text-anchor="end" >−50</text>
<line x1="296.30" y1="381.30" x2="298.60" y2="381.30" stroke="#222" stroke-width="0.7" />
<text transform="translate(290.80,383.90) scale(1,1.1)" font-size="7.4" text-anchor="end" >−100</text>
<rect x="298.90" y="277.10" width="3.10" height="62.20" fill="#111" />
<rect x="303.73" y="278.00" width="3.10" height="61.30" fill="#111" />
<rect x="308.56" y="278.50" width="3.10" height="60.80" fill="#111" />
<rect x="313.39" y="280.40" width="3.10" height="58.90" fill="#111" />
<rect x="318.22" y="281.30" width="3.10" height="58.00" fill="#111" />
<rect x="323.05" y="282.30" width="3.10" height="57.00" fill="#111" />
<rect x="327.88" y="282.70" width="3.10" height="56.60" fill="#111" />
<rect x="332.71" y="282.90" width="3.10" height="56.40" fill="#111" />
<rect x="337.54" y="294.30" width="3.10" height="45.00" fill="#1f1ff0" />
<rect x="342.37" y="295.00" width="3.10" height="44.30" fill="#1f1ff0" />
<rect x="347.20" y="295.50" width="3.10" height="43.80" fill="#1f1ff0" />
<rect x="352.03" y="297.70" width="3.10" height="41.60" fill="#1f1ff0" />
<rect x="356.86" y="299.20" width="3.10" height="40.10" fill="#1f1ff0" />
<rect x="361.69" y="302.10" width="3.10" height="37.20" fill="#1f1ff0" />
<rect x="366.52" y="306.00" width="3.10" height="33.30" fill="#1f1ff0" />
<rect x="371.35" y="327.90" width="3.10" height="11.40" fill="#1f1ff0" />
<rect x="376.18" y="325.00" width="3.10" height="14.30" fill="#9b22d8" />
<rect x="381.01" y="325.00" width="3.10" height="14.30" fill="#9b22d8" />
<rect x="385.84" y="327.00" width="3.10" height="12.30" fill="#9b22d8" />
<rect x="390.67" y="331.25" width="3.10" height="8.05" fill="#9b22d8" />
<rect x="395.50" y="335.00" width="3.10" height="4.30" fill="#9b22d8" />
<rect x="400.33" y="337.00" width="3.10" height="2.30" fill="#9b22d8" />
<rect x="405.16" y="339.30" width="3.10" height="3.70" fill="#9b22d8" />
<rect x="409.99" y="339.30" width="3.10" height="9.95" fill="#9b22d8" />
<rect x="414.82" y="339.30" width="3.10" height="25.70" fill="#ff6a10" />
<rect x="419.65" y="339.30" width="3.10" height="26.45" fill="#ff6a10" />
<rect x="424.48" y="339.30" width="3.10" height="28.20" fill="#ff6a10" />
<rect x="429.31" y="339.30" width="3.10" height="29.45" fill="#ff6a10" />
<rect x="434.14" y="339.30" width="3.10" height="30.20" fill="#ff6a10" />
<rect x="438.97" y="339.30" width="3.10" height="30.70" fill="#ff6a10" />
<rect x="443.80" y="339.30" width="3.10" height="31.45" fill="#ff6a10" />
<rect x="448.63" y="339.30" width="3.10" height="35.70" fill="#ff6a10" />
<rect x="298.60" y="295.80" width="53.40" height="1.60" fill="#fff" />
<line x1="298.60" y1="270.30" x2="298.60" y2="381.30" stroke="#222" stroke-width="0.8" />
<line x1="297.10" y1="294.60" x2="300.10" y2="297.40" stroke="#222" stroke-width="0.6" />
<line x1="298.60" y1="339.30" x2="453.25" y2="339.30" stroke="#222" stroke-width="0.8" />
<text x="0" y="0" font-size="7.7" text-anchor="middle" transform="translate(266.50,325.75) rotate(-90)" >% of TV chaneg from baseline</text>
<rect x="431.90" y="281.70" width="2.20" height="2.20" fill="#111" />
<text transform="translate(437.50,285.00) scale(1,1.1)" font-size="6.6" text-anchor="start" >vehicle</text>
<rect x="431.90" y="290.80" width="2.20" height="2.20" fill="#1f1ff0" />
<text transform="translate(437.50,294.10) scale(1,1.1)" font-size="6.6" text-anchor="start" >Adagrasib 30 mg/kg.p.o.,QD</text>
<rect x="431.90" y="299.90" width="2.20" height="2.20" fill="#9b22d8" />
<text transform="translate(437.50,303.20) scale(1,1.1)" font-size="6.6" text-anchor="start" >Sotorasib 30 mg/kg.p.o.,QD</text>
<rect x="431.90" y="309.00" width="2.20" height="2.20" fill="#ff6a10" />
<text transform="translate(437.50,312.30) scale(1,1.1)" font-size="6.6" text-anchor="start" >D3S-001 30 mg/kg.p.o.,QD</text>
<text transform="translate(0.40,405.80) scale(1,1.1)" font-size="11" text-anchor="start" font-weight="bold" >C</text>
<text transform="translate(24.50,405.00) scale(1,1.1)" font-size="7.7" text-anchor="start" >Antitumor activity in YOU-142 model</text>
<text transform="translate(38.00,418.75) scale(1,1.1)" font-size="7.7" text-anchor="start" >YUO-142 NSCLC PDO xenograft</text>
<text transform="translate(94.50,427.50) scale(1,1.1)" font-size="7.7" text-anchor="middle" >tumor growth</text>
<text transform="translate(89.50,440.00) scale(1,1.1)" font-size="7.7" text-anchor="middle" >stop of</text>
<text transform="translate(89.50,448.75) scale(1,1.1)" font-size="7.7" text-anchor="middle" >treatment</text>
<line x1="37.00" y1="449.20" x2="37.00" y2="522.50" stroke="#222" stroke-width="1.1" />
<line x1="34.50" y1="449.20" x2="37.00" y2="449.20" stroke="#222" stroke-width="0.7" />
<text transform="translate(31.25,451.80) scale(1,1.1)" font-size="7.4" text-anchor="end" >1,800</text>
<line x1="34.50" y1="461.50" x2="37.00" y2="461.50" stroke="#222" stroke-width="0.7" />
<text transform="translate(31.25,464.10) scale(1,1.1)" font-size="7.4" text-anchor="end" >1,500</text>
<line x1="34.50" y1="474.00" x2="37.00" y2="474.00" stroke="#222" stroke-width="0.7" />
<text transform="translate(31.25,476.60) scale(1,1.1)" font-size="7.4" text-anchor="end" >1,200</text>
<line x1="34.50" y1="486.00" x2="37.00" y2="486.00" stroke="#222" stroke-width="0.7" />
<text transform="translate(31.25,488.60) scale(1,1.1)" font-size="7.4" text-anchor="end" >900</text>
<line x1="34.50" y1="498.50" x2="37.00" y2="498.50" stroke="#222" stroke-width="0.7" />
<text transform="translate(31.25,501.10) scale(1,1.1)" font-size="7.4" text-anchor="end" >600</text>
<line x1="34.50" y1="510.50" x2="37.00" y2="510.50" stroke="#222" stroke-width="0.7" />
<text transform="translate(31.25,513.10) scale(1,1.1)" font-size="7.4" text-anchor="end" >300</text>
<line x1="34.50" y1="522.50" x2="37.00" y2="522.50" stroke="#222" stroke-width="0.7" />
<text transform="translate(31.25,525.10) scale(1,1.1)" font-size="7.4" text-anchor="end" >0</text>
<text x="0" y="0" font-size="7.7" text-anchor="middle" transform="translate(8.30,486.00) rotate(-90)" >Tumor volume (mm³)</text>
<line x1="37.00" y1="522.80" x2="146.50" y2="522.80" stroke="#222" stroke-width="1.2" />
<line x1="37.00" y1="522.50" x2="37.00" y2="524.90" stroke="#222" stroke-width="0.5" />
<line x1="46.10" y1="522.50" x2="46.10" y2="524.00" stroke="#222" stroke-width="0.5" />
<line x1="55.20" y1="522.50" x2="55.20" y2="524.90" stroke="#222" stroke-width="0.5" />
<line x1="64.30" y1="522.50" x2="64.30" y2="524.00" stroke="#222" stroke-width="0.5" />
<line x1="73.40" y1="522.50" x2="73.40" y2="524.90" stroke="#222" stroke-width="0.5" />
<line x1="82.50" y1="522.50" x2="82.50" y2="524.00" stroke="#222" stroke-width="0.5" />
<line x1="91.60" y1="522.50" x2="91.60" y2="524.90" stroke="#222" stroke-width="0.5" />
<line x1="100.70" y1="522.50" x2="100.70" y2="524.00" stroke="#222" stroke-width="0.5" />
<line x1="109.80" y1="522.50" x2="109.80" y2="524.90" stroke="#222" stroke-width="0.5" />
<line x1="118.90" y1="522.50" x2="118.90" y2="524.00" stroke="#222" stroke-width="0.5" />
<line x1="128.00" y1="522.50" x2="128.00" y2="524.90" stroke="#222" stroke-width="0.5" />
<line x1="137.10" y1="522.50" x2="137.10" y2="524.00" stroke="#222" stroke-width="0.5" />
<line x1="146.20" y1="522.50" x2="146.20" y2="524.90" stroke="#222" stroke-width="0.5" />
<text transform="translate(37.00,533.80) scale(1,1.1)" font-size="7.4" text-anchor="middle" >0</text>
<text transform="translate(55.20,533.80) scale(1,1.1)" font-size="7.4" text-anchor="middle" >14</text>
<text transform="translate(73.40,533.80) scale(1,1.1)" font-size="7.4" text-anchor="middle" >28</text>
<text transform="translate(91.60,533.80) scale(1,1.1)" font-size="7.4" text-anchor="middle" >42</text>
<text transform="translate(109.80,533.80) scale(1,1.1)" font-size="7.4" text-anchor="middle" >56</text>
<text transform="translate(128.00,533.80) scale(1,1.1)" font-size="7.4" text-anchor="middle" >70</text>
<text transform="translate(146.20,533.80) scale(1,1.1)" font-size="7.4" text-anchor="middle" >84</text>
<text transform="translate(37.50,546.70) scale(1,1.1)" font-size="7.7" text-anchor="start" >Days after the start of treatment</text>
<line x1="89.30" y1="450.50" x2="89.30" y2="522.50" stroke="#555" stroke-width="0.6" stroke-dasharray="0.8,0.9"/>
<polyline points="37.00,515.80 45.00,519.50 55.00,521.50 65.00,522.50 125.00,522.50 135.00,521.50 141.00,520.80" fill="none" stroke="#ff2a2a" stroke-width="1.0" stroke-linejoin="round" />
<polyline points="37.00,515.80 45.00,519.00 55.00,521.00 65.00,522.20 105.00,522.30 116.00,521.60 120.80,520.60 126.20,519.60 130.80,518.50 135.40,517.50 141.10,516.20" fill="none" stroke="#ff8a20" stroke-width="1.0" stroke-linejoin="round" />
<polyline points="37.00,515.80 45.00,517.80 55.00,519.30 65.00,520.00 70.00,520.00 79.20,518.90 85.40,516.20 89.20,514.50 93.10,510.80 98.50,503.00 102.00,499.20" fill="none" stroke="#9b22d8" stroke-width="1.0" stroke-linejoin="round" />
<polyline points="37.00,515.80 45.00,517.50 55.00,519.00 65.00,519.80 75.00,519.80 85.40,517.70 89.20,517.00 93.10,513.80 98.50,509.20 102.00,505.50 107.70,498.50 111.20,493.00" fill="none" stroke="#1f1ff0" stroke-width="1.0" stroke-linejoin="round" />
<circle cx="40.90" cy="522.00" r="0.9" fill="#ff8a20"/>
<circle cx="46.10" cy="522.00" r="0.9" fill="#ff8a20"/>
<circle cx="51.30" cy="522.00" r="0.9" fill="#ff8a20"/>
<circle cx="56.50" cy="522.00" r="0.9" fill="#ff8a20"/>
<circle cx="61.70" cy="522.00" r="0.9" fill="#ff8a20"/>
<circle cx="66.90" cy="522.00" r="0.9" fill="#ff8a20"/>
<circle cx="72.10" cy="522.00" r="0.9" fill="#ff8a20"/>
<circle cx="77.30" cy="522.00" r="0.9" fill="#ff8a20"/>
<circle cx="82.50" cy="522.00" r="0.9" fill="#ff8a20"/>
<circle cx="87.70" cy="522.00" r="0.9" fill="#ff8a20"/>
<circle cx="92.90" cy="522.00" r="0.9" fill="#ff8a20"/>
<circle cx="98.10" cy="522.00" r="0.9" fill="#ff8a20"/>
<circle cx="103.30" cy="522.00" r="0.9" fill="#ff8a20"/>
<circle cx="108.50" cy="522.00" r="0.9" fill="#ff8a20"/>
<circle cx="113.70" cy="522.00" r="0.9" fill="#ff8a20"/>
<line x1="98.10" y1="521.68" x2="98.10" y2="522.88" stroke="#ff8a20" stroke-width="0.6" />
<line x1="97.10" y1="521.68" x2="99.10" y2="521.68" stroke="#ff8a20" stroke-width="0.6" />
<line x1="97.10" y1="522.88" x2="99.10" y2="522.88" stroke="#ff8a20" stroke-width="0.6" />
<circle cx="98.10" cy="522.28" r="1.0" fill="#ff8a20"/>
<line x1="102.00" y1="521.69" x2="102.00" y2="522.89" stroke="#ff8a20" stroke-width="0.6" />
<line x1="101.00" y1="521.69" x2="103.00" y2="521.69" stroke="#ff8a20" stroke-width="0.6" />
<line x1="101.00" y1="522.89" x2="103.00" y2="522.89" stroke="#ff8a20" stroke-width="0.6" />
<circle cx="102.00" cy="522.29" r="1.0" fill="#ff8a20"/>
<line x1="105.90" y1="521.64" x2="105.90" y2="522.84" stroke="#ff8a20" stroke-width="0.6" />
<line x1="104.90" y1="521.64" x2="106.90" y2="521.64" stroke="#ff8a20" stroke-width="0.6" />
<line x1="104.90" y1="522.84" x2="106.90" y2="522.84" stroke="#ff8a20" stroke-width="0.6" />
<circle cx="105.90" cy="522.24" r="1.0" fill="#ff8a20"/>
<line x1="109.80" y1="521.21" x2="109.80" y2="522.78" stroke="#ff8a20" stroke-width="0.6" />
<line x1="108.80" y1="521.21" x2="110.80" y2="521.21" stroke="#ff8a20" stroke-width="0.6" />
<line x1="108.80" y1="522.78" x2="110.80" y2="522.78" stroke="#ff8a20" stroke-width="0.6" />
<circle cx="109.80" cy="521.99" r="1.0" fill="#ff8a20"/>
<line x1="113.70" y1="520.65" x2="113.70" y2="522.84" stroke="#ff8a20" stroke-width="0.6" />
<line x1="112.70" y1="520.65" x2="114.70" y2="520.65" stroke="#ff8a20" stroke-width="0.6" />
<line x1="112.70" y1="522.84" x2="114.70" y2="522.84" stroke="#ff8a20" stroke-width="0.6" />
<circle cx="113.70" cy="521.75" r="1.0" fill="#ff8a20"/>
<line x1="117.60" y1="519.86" x2="117.60" y2="522.67" stroke="#ff8a20" stroke-width="0.6" />
<line x1="116.60" y1="519.86" x2="118.60" y2="519.86" stroke="#ff8a20" stroke-width="0.6" />
<line x1="116.60" y1="522.67" x2="118.60" y2="522.67" stroke="#ff8a20" stroke-width="0.6" />
<circle cx="117.60" cy="521.27" r="1.0" fill="#ff8a20"/>
<line x1="121.50" y1="518.75" x2="121.50" y2="522.19" stroke="#ff8a20" stroke-width="0.6" />
<line x1="120.50" y1="518.75" x2="122.50" y2="518.75" stroke="#ff8a20" stroke-width="0.6" />
<line x1="120.50" y1="522.19" x2="122.50" y2="522.19" stroke="#ff8a20" stroke-width="0.6" />
<circle cx="121.50" cy="520.47" r="1.0" fill="#ff8a20"/>
<line x1="125.40" y1="517.72" x2="125.40" y2="521.78" stroke="#ff8a20" stroke-width="0.6" />
<line x1="124.40" y1="517.72" x2="126.40" y2="517.72" stroke="#ff8a20" stroke-width="0.6" />
<line x1="124.40" y1="521.78" x2="126.40" y2="521.78" stroke="#ff8a20" stroke-width="0.6" />
<circle cx="125.40" cy="519.75" r="1.0" fill="#ff8a20"/>
<line x1="129.30" y1="516.51" x2="129.30" y2="521.20" stroke="#ff8a20" stroke-width="0.6" />
<line x1="128.30" y1="516.51" x2="130.30" y2="516.51" stroke="#ff8a20" stroke-width="0.6" />
<line x1="128.30" y1="521.20" x2="130.30" y2="521.20" stroke="#ff8a20" stroke-width="0.6" />
<circle cx="129.30" cy="518.86" r="1.0" fill="#ff8a20"/>
<line x1="133.20" y1="515.32" x2="133.20" y2="520.63" stroke="#ff8a20" stroke-width="0.6" />
<line x1="132.20" y1="515.32" x2="134.20" y2="515.32" stroke="#ff8a20" stroke-width="0.6" />
<line x1="132.20" y1="520.63" x2="134.20" y2="520.63" stroke="#ff8a20" stroke-width="0.6" />
<circle cx="133.20" cy="517.98" r="1.0" fill="#ff8a20"/>
<line x1="137.10" y1="514.14" x2="137.10" y2="520.08" stroke="#ff8a20" stroke-width="0.6" />
<line x1="136.10" y1="514.14" x2="138.10" y2="514.14" stroke="#ff8a20" stroke-width="0.6" />
<line x1="136.10" y1="520.08" x2="138.10" y2="520.08" stroke="#ff8a20" stroke-width="0.6" />
<circle cx="137.10" cy="517.11" r="1.0" fill="#ff8a20"/>
<line x1="141.00" y1="512.94" x2="141.00" y2="519.50" stroke="#ff8a20" stroke-width="0.6" />
<line x1="140.00" y1="512.94" x2="142.00" y2="512.94" stroke="#ff8a20" stroke-width="0.6" />
<line x1="140.00" y1="519.50" x2="142.00" y2="519.50" stroke="#ff8a20" stroke-width="0.6" />
<circle cx="141.00" cy="516.22" r="1.0" fill="#ff8a20"/>
<line x1="125.40" y1="521.79" x2="125.40" y2="523.13" stroke="#ff2a2a" stroke-width="0.55" />
<line x1="124.50" y1="521.79" x2="126.30" y2="521.79" stroke="#ff2a2a" stroke-width="0.55" />
<line x1="124.50" y1="523.13" x2="126.30" y2="523.13" stroke="#ff2a2a" stroke-width="0.55" />
<circle cx="125.40" cy="522.46" r="0.9" fill="#ff2a2a"/>
<line x1="129.30" y1="521.05" x2="129.30" y2="523.09" stroke="#ff2a2a" stroke-width="0.55" />
<line x1="128.40" y1="521.05" x2="130.20" y2="521.05" stroke="#ff2a2a" stroke-width="0.55" />
<line x1="128.40" y1="523.09" x2="130.20" y2="523.09" stroke="#ff2a2a" stroke-width="0.55" />
<circle cx="129.30" cy="522.07" r="0.9" fill="#ff2a2a"/>
<line x1="133.20" y1="520.31" x2="133.20" y2="523.05" stroke="#ff2a2a" stroke-width="0.55" />
<line x1="132.30" y1="520.31" x2="134.10" y2="520.31" stroke="#ff2a2a" stroke-width="0.55" />
<line x1="132.30" y1="523.05" x2="134.10" y2="523.05" stroke="#ff2a2a" stroke-width="0.55" />
<circle cx="133.20" cy="521.68" r="0.9" fill="#ff2a2a"/>
<line x1="137.10" y1="519.54" x2="137.10" y2="522.97" stroke="#ff2a2a" stroke-width="0.55" />
<line x1="136.20" y1="519.54" x2="138.00" y2="519.54" stroke="#ff2a2a" stroke-width="0.55" />
<line x1="136.20" y1="522.97" x2="138.00" y2="522.97" stroke="#ff2a2a" stroke-width="0.55" />
<circle cx="137.10" cy="521.25" r="0.9" fill="#ff2a2a"/>
<line x1="141.00" y1="518.73" x2="141.00" y2="522.87" stroke="#ff2a2a" stroke-width="0.55" />
<line x1="140.10" y1="518.73" x2="141.90" y2="518.73" stroke="#ff2a2a" stroke-width="0.55" />
<line x1="140.10" y1="522.87" x2="141.90" y2="522.87" stroke="#ff2a2a" stroke-width="0.55" />
<circle cx="141.00" cy="520.80" r="0.9" fill="#ff2a2a"/>
<line x1="70.00" y1="519.20" x2="70.00" y2="520.80" stroke="#9b22d8" stroke-width="0.55" />
<line x1="69.00" y1="519.20" x2="71.00" y2="519.20" stroke="#9b22d8" stroke-width="0.55" />
<line x1="69.00" y1="520.80" x2="71.00" y2="520.80" stroke="#9b22d8" stroke-width="0.55" />
<circle cx="70.00" cy="520.00" r="0.9" fill="#9b22d8"/>
<line x1="79.20" y1="517.40" x2="79.20" y2="520.40" stroke="#9b22d8" stroke-width="0.55" />
<line x1="78.20" y1="517.40" x2="80.20" y2="517.40" stroke="#9b22d8" stroke-width="0.55" />
<line x1="78.20" y1="520.40" x2="80.20" y2="520.40" stroke="#9b22d8" stroke-width="0.55" />
<circle cx="79.20" cy="518.90" r="0.9" fill="#9b22d8"/>
<line x1="85.40" y1="514.20" x2="85.40" y2="518.20" stroke="#9b22d8" stroke-width="0.55" />
<line x1="84.40" y1="514.20" x2="86.40" y2="514.20" stroke="#9b22d8" stroke-width="0.55" />
<line x1="84.40" y1="518.20" x2="86.40" y2="518.20" stroke="#9b22d8" stroke-width="0.55" />
<circle cx="85.40" cy="516.20" r="0.9" fill="#9b22d8"/>
<line x1="89.20" y1="511.50" x2="89.20" y2="517.50" stroke="#9b22d8" stroke-width="0.55" />
<line x1="88.20" y1="511.50" x2="90.20" y2="511.50" stroke="#9b22d8" stroke-width="0.55" />
<line x1="88.20" y1="517.50" x2="90.20" y2="517.50" stroke="#9b22d8" stroke-width="0.55" />
<circle cx="89.20" cy="514.50" r="0.9" fill="#9b22d8"/>
<line x1="93.10" y1="507.30" x2="93.10" y2="514.30" stroke="#9b22d8" stroke-width="0.55" />
<line x1="92.10" y1="507.30" x2="94.10" y2="507.30" stroke="#9b22d8" stroke-width="0.55" />
<line x1="92.10" y1="514.30" x2="94.10" y2="514.30" stroke="#9b22d8" stroke-width="0.55" />
<circle cx="93.10" cy="510.80" r="0.9" fill="#9b22d8"/>
<line x1="98.50" y1="497.00" x2="98.50" y2="509.00" stroke="#9b22d8" stroke-width="0.55" />
<line x1="97.50" y1="497.00" x2="99.50" y2="497.00" stroke="#9b22d8" stroke-width="0.55" />
<line x1="97.50" y1="509.00" x2="99.50" y2="509.00" stroke="#9b22d8" stroke-width="0.55" />
<circle cx="98.50" cy="503.00" r="0.9" fill="#9b22d8"/>
<line x1="102.00" y1="490.20" x2="102.00" y2="508.20" stroke="#9b22d8" stroke-width="0.55" />
<line x1="101.00" y1="490.20" x2="103.00" y2="490.20" stroke="#9b22d8" stroke-width="0.55" />
<line x1="101.00" y1="508.20" x2="103.00" y2="508.20" stroke="#9b22d8" stroke-width="0.55" />
<circle cx="102.00" cy="499.20" r="0.9" fill="#9b22d8"/>
<line x1="85.40" y1="516.70" x2="85.40" y2="518.70" stroke="#1f1ff0" stroke-width="0.55" />
<line x1="84.40" y1="516.70" x2="86.40" y2="516.70" stroke="#1f1ff0" stroke-width="0.55" />
<line x1="84.40" y1="518.70" x2="86.40" y2="518.70" stroke="#1f1ff0" stroke-width="0.55" />
<circle cx="85.40" cy="517.70" r="0.9" fill="#1f1ff0"/>
<line x1="89.20" y1="515.50" x2="89.20" y2="518.50" stroke="#1f1ff0" stroke-width="0.55" />
<line x1="88.20" y1="515.50" x2="90.20" y2="515.50" stroke="#1f1ff0" stroke-width="0.55" />
<line x1="88.20" y1="518.50" x2="90.20" y2="518.50" stroke="#1f1ff0" stroke-width="0.55" />
<circle cx="89.20" cy="517.00" r="0.9" fill="#1f1ff0"/>
<line x1="93.10" y1="511.80" x2="93.10" y2="515.80" stroke="#1f1ff0" stroke-width="0.55" />
<line x1="92.10" y1="511.80" x2="94.10" y2="511.80" stroke="#1f1ff0" stroke-width="0.55" />
<line x1="92.10" y1="515.80" x2="94.10" y2="515.80" stroke="#1f1ff0" stroke-width="0.55" />
<circle cx="93.10" cy="513.80" r="0.9" fill="#1f1ff0"/>
<line x1="98.50" y1="506.70" x2="98.50" y2="511.70" stroke="#1f1ff0" stroke-width="0.55" />
<line x1="97.50" y1="506.70" x2="99.50" y2="506.70" stroke="#1f1ff0" stroke-width="0.55" />
<line x1="97.50" y1="511.70" x2="99.50" y2="511.70" stroke="#1f1ff0" stroke-width="0.55" />
<circle cx="98.50" cy="509.20" r="0.9" fill="#1f1ff0"/>
<line x1="102.00" y1="502.50" x2="102.00" y2="508.50" stroke="#1f1ff0" stroke-width="0.55" />
<line x1="101.00" y1="502.50" x2="103.00" y2="502.50" stroke="#1f1ff0" stroke-width="0.55" />
<line x1="101.00" y1="508.50" x2="103.00" y2="508.50" stroke="#1f1ff0" stroke-width="0.55" />
<circle cx="102.00" cy="505.50" r="0.9" fill="#1f1ff0"/>
<line x1="107.70" y1="495.00" x2="107.70" y2="502.00" stroke="#1f1ff0" stroke-width="0.55" />
<line x1="106.70" y1="495.00" x2="108.70" y2="495.00" stroke="#1f1ff0" stroke-width="0.55" />
<line x1="106.70" y1="502.00" x2="108.70" y2="502.00" stroke="#1f1ff0" stroke-width="0.55" />
<circle cx="107.70" cy="498.50" r="0.9" fill="#1f1ff0"/>
<line x1="111.20" y1="489.00" x2="111.20" y2="497.00" stroke="#1f1ff0" stroke-width="0.55" />
<line x1="110.20" y1="489.00" x2="112.20" y2="489.00" stroke="#1f1ff0" stroke-width="0.55" />
<line x1="110.20" y1="497.00" x2="112.20" y2="497.00" stroke="#1f1ff0" stroke-width="0.55" />
<circle cx="111.20" cy="493.00" r="0.9" fill="#1f1ff0"/>
<circle cx="45.00" cy="517.50" r="0.8" fill="#1f1ff0"/>
<circle cx="55.00" cy="519.00" r="0.8" fill="#1f1ff0"/>
<circle cx="65.00" cy="519.80" r="0.8" fill="#1f1ff0"/>
<circle cx="75.00" cy="519.80" r="0.8" fill="#1f1ff0"/>
<polyline points="37.05,515.80 40.60,515.30 43.70,510.60 45.80,508.60 49.90,504.50 52.40,500.40 55.00,497.30 59.10,486.00 61.70,477.30 64.70,462.40" fill="none" stroke="#111" stroke-width="1.0" stroke-linejoin="round" />
<path d="M35.75,514.80 L38.35,514.80 L37.05,517.00 Z" fill="#111"/>
<line x1="40.60" y1="514.50" x2="40.60" y2="516.10" stroke="#111" stroke-width="0.6" />
<line x1="39.50" y1="514.50" x2="41.70" y2="514.50" stroke="#111" stroke-width="0.6" />
<line x1="39.50" y1="516.10" x2="41.70" y2="516.10" stroke="#111" stroke-width="0.6" />
<path d="M39.30,514.30 L41.90,514.30 L40.60,516.50 Z" fill="#111"/>
<line x1="43.70" y1="509.10" x2="43.70" y2="512.10" stroke="#111" stroke-width="0.6" />
<line x1="42.60" y1="509.10" x2="44.80" y2="509.10" stroke="#111" stroke-width="0.6" />
<line x1="42.60" y1="512.10" x2="44.80" y2="512.10" stroke="#111" stroke-width="0.6" />
<path d="M42.40,509.60 L45.00,509.60 L43.70,511.80 Z" fill="#111"/>
<line x1="45.80" y1="507.10" x2="45.80" y2="510.10" stroke="#111" stroke-width="0.6" />
<line x1="44.70" y1="507.10" x2="46.90" y2="507.10" stroke="#111" stroke-width="0.6" />
<line x1="44.70" y1="510.10" x2="46.90" y2="510.10" stroke="#111" stroke-width="0.6" />
<path d="M44.50,507.60 L47.10,507.60 L45.80,509.80 Z" fill="#111"/>
<line x1="49.90" y1="502.00" x2="49.90" y2="507.00" stroke="#111" stroke-width="0.6" />
<line x1="48.80" y1="502.00" x2="51.00" y2="502.00" stroke="#111" stroke-width="0.6" />
<line x1="48.80" y1="507.00" x2="51.00" y2="507.00" stroke="#111" stroke-width="0.6" />
<path d="M48.60,503.50 L51.20,503.50 L49.90,505.70 Z" fill="#111"/>
<line x1="52.40" y1="497.90" x2="52.40" y2="502.90" stroke="#111" stroke-width="0.6" />
<line x1="51.30" y1="497.90" x2="53.50" y2="497.90" stroke="#111" stroke-width="0.6" />
<line x1="51.30" y1="502.90" x2="53.50" y2="502.90" stroke="#111" stroke-width="0.6" />
<path d="M51.10,499.40 L53.70,499.40 L52.40,501.60 Z" fill="#111"/>
<line x1="55.00" y1="494.30" x2="55.00" y2="500.30" stroke="#111" stroke-width="0.6" />
<line x1="53.90" y1="494.30" x2="56.10" y2="494.30" stroke="#111" stroke-width="0.6" />
<line x1="53.90" y1="500.30" x2="56.10" y2="500.30" stroke="#111" stroke-width="0.6" />
<path d="M53.70,496.30 L56.30,496.30 L55.00,498.50 Z" fill="#111"/>
<line x1="59.10" y1="482.00" x2="59.10" y2="490.00" stroke="#111" stroke-width="0.6" />
<line x1="58.00" y1="482.00" x2="60.20" y2="482.00" stroke="#111" stroke-width="0.6" />
<line x1="58.00" y1="490.00" x2="60.20" y2="490.00" stroke="#111" stroke-width="0.6" />
<path d="M57.80,485.00 L60.40,485.00 L59.10,487.20 Z" fill="#111"/>
<line x1="61.70" y1="473.30" x2="61.70" y2="481.30" stroke="#111" stroke-width="0.6" />
<line x1="60.60" y1="473.30" x2="62.80" y2="473.30" stroke="#111" stroke-width="0.6" />
<line x1="60.60" y1="481.30" x2="62.80" y2="481.30" stroke="#111" stroke-width="0.6" />
<path d="M60.40,476.30 L63.00,476.30 L61.70,478.50 Z" fill="#111"/>
<line x1="64.70" y1="455.90" x2="64.70" y2="468.90" stroke="#111" stroke-width="0.6" />
<line x1="63.60" y1="455.90" x2="65.80" y2="455.90" stroke="#111" stroke-width="0.6" />
<line x1="63.60" y1="468.90" x2="65.80" y2="468.90" stroke="#111" stroke-width="0.6" />
<path d="M63.40,461.40 L66.00,461.40 L64.70,463.60 Z" fill="#111"/>
<line x1="128.75" y1="447.50" x2="137.00" y2="447.50" stroke="#111" stroke-width="0.8" />
<circle cx="132.90" cy="447.50" r="1.0" fill="#111"/>
<text transform="translate(139.50,449.90) scale(1,1.1)" font-size="6.6" text-anchor="start" >Vehicle, p.o., QD</text>
<line x1="128.75" y1="458.45" x2="137.00" y2="458.45" stroke="#1f1ff0" stroke-width="0.8" />
<circle cx="132.90" cy="458.45" r="1.0" fill="#1f1ff0"/>
<text transform="translate(139.50,460.85) scale(1,1.1)" font-size="6.6" text-anchor="start" >Adagrasib 30 mg/kg.p.o.,QD</text>
<line x1="128.75" y1="469.40" x2="137.00" y2="469.40" stroke="#9b22d8" stroke-width="0.8" />
<circle cx="132.90" cy="469.40" r="1.0" fill="#9b22d8"/>
<text transform="translate(139.50,471.80) scale(1,1.1)" font-size="6.6" text-anchor="start" >Sotorasib 30 mg/kg.p.o.,QD</text>
<line x1="128.75" y1="480.35" x2="137.00" y2="480.35" stroke="#ff8a20" stroke-width="0.8" />
<circle cx="132.90" cy="480.35" r="1.0" fill="#ff8a20"/>
<text transform="translate(139.50,482.75) scale(1,1.1)" font-size="6.6" text-anchor="start" >D3S-001 30 mg/kg.p.o.,QD</text>
<line x1="128.75" y1="491.30" x2="137.00" y2="491.30" stroke="#ff2a2a" stroke-width="0.8" />
<circle cx="132.90" cy="491.30" r="1.0" fill="#ff2a2a"/>
<text transform="translate(139.50,493.70) scale(1,1.1)" font-size="6.6" text-anchor="start" >D3S-001 100 mg/kg.p.o.,QD</text>
<line x1="0.00" y1="555.50" x2="232.50" y2="555.50" stroke="#3a3a3a" stroke-width="1.0" />
<line x1="0.00" y1="585.50" x2="232.50" y2="585.50" stroke="#3a3a3a" stroke-width="1.0" />
<line x1="0.00" y1="630.50" x2="232.50" y2="630.50" stroke="#3a3a3a" stroke-width="1.0" />
<text transform="translate(18.75,572.50) scale(1,1.1)" font-size="7.7" text-anchor="middle" >Model</text>
<text transform="translate(57.50,572.50) scale(1,1.1)" font-size="7.7" text-anchor="middle" >Treatment</text>
<text transform="translate(96.25,572.50) scale(1,1.1)" font-size="7.7" text-anchor="middle" >Dose</text>
<text transform="translate(135.50,567.00) scale(1,1.1)" font-size="7.7" text-anchor="middle" >TGI</text>
<text transform="translate(135.50,577.00) scale(1,1.1)" font-size="7.7" text-anchor="middle" >%</text>
<text transform="translate(175.50,564.50) scale(1,1.1)" font-size="5.2" text-anchor="middle">AUC<tspan font-size="2.6" dy="1">0-last,</tspan></text>
<text transform="translate(175.50,570.75) scale(1,1.1)" font-size="5.2" text-anchor="middle" >total</text>
<text transform="translate(175.50,578.00) scale(1,1.1)" font-size="5.5" text-anchor="middle" >(nmol/L×hours)</text>
<text transform="translate(215.50,564.50) scale(1,1.1)" font-size="5.2" text-anchor="middle">AUC<tspan font-size="2.6" dy="1">0-last,</tspan></text>
<text transform="translate(215.50,570.75) scale(1,1.1)" font-size="5.2" text-anchor="middle" >free</text>
<text transform="translate(215.50,578.00) scale(1,1.1)" font-size="5.5" text-anchor="middle" >(nmol/L×hours)</text>
<text transform="translate(57.50,594.20) scale(1,1.1)" font-size="7.7" text-anchor="middle" >Adagrasib</text>
<text transform="translate(96.25,594.20) scale(1,1.1)" font-size="7.7" text-anchor="middle" >30 mg/kg</text>
<text transform="translate(135.50,594.20) scale(1,1.1)" font-size="7.7" text-anchor="middle" >106.9</text>
<text transform="translate(175.50,594.20) scale(1,1.1)" font-size="7.7" text-anchor="middle" >21,745</text>
<text transform="translate(215.50,594.20) scale(1,1.1)" font-size="7.7" text-anchor="middle" >217.5</text>
<text transform="translate(57.50,604.30) scale(1,1.1)" font-size="7.7" text-anchor="middle" >Sotorasib</text>
<text transform="translate(96.25,604.30) scale(1,1.1)" font-size="7.7" text-anchor="middle" >30 mg/kg</text>
<text transform="translate(135.50,604.30) scale(1,1.1)" font-size="7.7" text-anchor="middle" >106.0</text>
<text transform="translate(175.50,604.30) scale(1,1.1)" font-size="7.7" text-anchor="middle" >7,082</text>
<text transform="translate(215.50,604.30) scale(1,1.1)" font-size="7.7" text-anchor="middle" >424.9</text>
<text transform="translate(57.50,615.00) scale(1,1.1)" font-size="7.7" text-anchor="middle" >D3S-001</text>
<text transform="translate(96.25,615.00) scale(1,1.1)" font-size="7.7" text-anchor="middle" >30 mg/kg</text>
<text transform="translate(135.50,615.00) scale(1,1.1)" font-size="7.7" text-anchor="middle" >110.3</text>
<text transform="translate(175.50,615.00) scale(1,1.1)" font-size="7.7" text-anchor="middle" >6,138</text>
<text transform="translate(215.50,615.00) scale(1,1.1)" font-size="7.7" text-anchor="middle" >92.1</text>
<text transform="translate(57.50,625.70) scale(1,1.1)" font-size="7.7" text-anchor="middle" >D3S-001</text>
<text transform="translate(96.25,625.70) scale(1,1.1)" font-size="7.7" text-anchor="middle" >100 mg/kg</text>
<text transform="translate(135.50,625.70) scale(1,1.1)" font-size="7.7" text-anchor="middle" >110.8</text>
<text transform="translate(175.50,625.70) scale(1,1.1)" font-size="7.7" text-anchor="middle" >17,731</text>
<text transform="translate(215.50,625.70) scale(1,1.1)" font-size="7.7" text-anchor="middle" >266.0</text>
<text transform="translate(18.75,605.80) scale(1,1.1)" font-size="7.7" text-anchor="middle" >YUO-142</text>
<text transform="translate(44.50,649.25) scale(1,1.1)" font-size="7.7" text-anchor="start" >YUO-142 NSCLC PDO tumor volume</text>
<text transform="translate(108.60,658.75) scale(1,1.1)" font-size="7.7" text-anchor="middle" >change from baseline</text>
<line x1="33.20" y1="665.50" x2="35.50" y2="665.50" stroke="#222" stroke-width="0.7" />
<text transform="translate(28.80,668.10) scale(1,1.1)" font-size="7.4" text-anchor="end" >2,000</text>
<line x1="33.20" y1="678.25" x2="35.50" y2="678.25" stroke="#222" stroke-width="0.7" />
<text transform="translate(28.80,680.85) scale(1,1.1)" font-size="7.4" text-anchor="end" >1,000</text>
<line x1="33.20" y1="692.00" x2="35.50" y2="692.00" stroke="#222" stroke-width="0.7" />
<text transform="translate(28.80,694.60) scale(1,1.1)" font-size="7.4" text-anchor="end" >100</text>
<line x1="33.20" y1="712.50" x2="35.50" y2="712.50" stroke="#222" stroke-width="0.7" />
<text transform="translate(28.80,715.10) scale(1,1.1)" font-size="7.4" text-anchor="end" >50</text>
<line x1="33.20" y1="732.50" x2="35.50" y2="732.50" stroke="#222" stroke-width="0.7" />
<text transform="translate(28.80,735.10) scale(1,1.1)" font-size="7.4" text-anchor="end" >0</text>
<line x1="33.20" y1="752.50" x2="35.50" y2="752.50" stroke="#222" stroke-width="0.7" />
<text transform="translate(28.80,755.10) scale(1,1.1)" font-size="7.4" text-anchor="end" >−50</text>
<line x1="33.20" y1="772.50" x2="35.50" y2="772.50" stroke="#222" stroke-width="0.7" />
<text transform="translate(28.80,775.10) scale(1,1.1)" font-size="7.4" text-anchor="end" >−100</text>
<rect x="40.00" y="676.25" width="4.00" height="56.25" fill="#111" />
<rect x="45.77" y="678.25" width="4.00" height="54.25" fill="#111" />
<rect x="51.54" y="680.00" width="4.00" height="52.50" fill="#111" />
<rect x="57.31" y="682.50" width="4.00" height="50.00" fill="#111" />
<rect x="63.08" y="683.75" width="4.00" height="48.75" fill="#111" />
<rect x="68.85" y="732.50" width="4.00" height="16.25" fill="#9b22d8" />
<rect x="74.62" y="732.50" width="4.00" height="17.50" fill="#9b22d8" />
<rect x="80.39" y="732.50" width="4.00" height="18.25" fill="#9b22d8" />
<rect x="86.16" y="732.50" width="4.00" height="29.50" fill="#9b22d8" />
<rect x="91.93" y="732.50" width="4.00" height="30.00" fill="#9b22d8" />
<rect x="97.70" y="732.50" width="4.00" height="16.25" fill="#1f1ff0" />
<rect x="103.47" y="732.50" width="4.00" height="23.00" fill="#1f1ff0" />
<rect x="109.24" y="732.50" width="4.00" height="26.25" fill="#1f1ff0" />
<rect x="115.01" y="732.50" width="4.00" height="29.50" fill="#1f1ff0" />
<rect x="120.78" y="732.50" width="4.00" height="30.50" fill="#1f1ff0" />
<rect x="126.55" y="732.50" width="4.00" height="32.00" fill="#ffa64a" />
<rect x="132.32" y="732.50" width="4.00" height="35.50" fill="#ffa64a" />
<rect x="138.09" y="732.50" width="4.00" height="38.80" fill="#ffa64a" />
<rect x="143.86" y="732.50" width="4.00" height="39.50" fill="#ffa64a" />
<rect x="149.63" y="732.50" width="4.00" height="40.90" fill="#ffa64a" />
<rect x="155.40" y="732.50" width="4.00" height="35.50" fill="#ff6a10" />
<rect x="161.17" y="732.50" width="4.00" height="40.90" fill="#ff6a10" />
<rect x="166.94" y="732.50" width="4.00" height="40.90" fill="#ff6a10" />
<rect x="172.71" y="732.50" width="4.00" height="40.90" fill="#ff6a10" />
<rect x="178.48" y="732.50" width="4.00" height="40.90" fill="#ff6a10" />
<rect x="35.50" y="690.60" width="32.50" height="1.50" fill="#fff" />
<line x1="35.50" y1="665.50" x2="35.50" y2="772.50" stroke="#222" stroke-width="0.8" />
<line x1="34.00" y1="689.40" x2="37.00" y2="692.20" stroke="#222" stroke-width="0.6" />
<line x1="35.50" y1="732.50" x2="183.30" y2="732.50" stroke="#222" stroke-width="0.8" />
<text x="0" y="0" font-size="7.7" text-anchor="middle" transform="translate(5.90,719.50) rotate(-90)" >% of TV chaneg from baseline</text>
<rect x="133.70" y="670.40" width="2.20" height="2.20" fill="#111" />
<text transform="translate(139.60,673.70) scale(1,1.1)" font-size="6.5" text-anchor="start" >vehicle</text>
<rect x="133.70" y="677.12" width="2.20" height="2.20" fill="#9b22d8" />
<text transform="translate(139.60,680.42) scale(1,1.1)" font-size="6.5" text-anchor="start" >Sotorasib 30 mg/kg.p.o.,QD</text>
<rect x="133.70" y="683.84" width="2.20" height="2.20" fill="#1f1ff0" />
<text transform="translate(139.60,687.14) scale(1,1.1)" font-size="6.5" text-anchor="start" >Adagrasib 30 mg/kg.p.o.,QD</text>
<rect x="133.70" y="690.56" width="2.20" height="2.20" fill="#ffa64a" />
<text transform="translate(139.60,693.86) scale(1,1.1)" font-size="6.5" text-anchor="start" >D3S-001 30 mg/kg.p.o.,QD</text>
<rect x="133.70" y="697.28" width="2.20" height="2.20" fill="#ff6a10" />
<text transform="translate(139.60,700.58) scale(1,1.1)" font-size="6.5" text-anchor="start" >D3S-001 100 mg/kg.p.o.,QD</text>
<text transform="translate(245.30,405.60) scale(1,1.1)" font-size="11" text-anchor="start" font-weight="bold" >D</text>
<text transform="translate(269.50,405.60) scale(1,1.1)" font-size="7.85" text-anchor="start" >Antitumor activity of D3S-001 in a panel of CRC PDX models</text>
<text transform="translate(343.80,419.40) scale(1,1.1)" font-size="7.7" text-anchor="start" >Anti-tumor activity of D3S-001</text>
<text transform="translate(321.40,428.20) scale(1,1.1)" font-size="7.7" text-anchor="start" >in a panel of colorectal cancer PDX models</text>
<line x1="285.80" y1="493.44" x2="512.00" y2="493.44" stroke="#222" stroke-width="0.7" stroke-dasharray="1.9,1.5"/>
<line x1="285.80" y1="513.59" x2="512.00" y2="513.59" stroke="#222" stroke-width="0.7" stroke-dasharray="1.9,1.5"/>
<line x1="285.80" y1="443.00" x2="285.80" y2="456.30" stroke="#222" stroke-width="0.9" />
<line x1="285.80" y1="460.80" x2="285.80" y2="541.90" stroke="#222" stroke-width="0.9" />
<line x1="284.30" y1="455.10" x2="287.30" y2="458.10" stroke="#222" stroke-width="0.6" />
<line x1="284.30" y1="459.00" x2="287.30" y2="462.00" stroke="#222" stroke-width="0.6" />
<line x1="283.50" y1="443.00" x2="285.80" y2="443.00" stroke="#222" stroke-width="0.7" />
<text transform="translate(282.00,445.60) scale(1,1.1)" font-size="7.4" text-anchor="end" >300</text>
<line x1="283.50" y1="449.60" x2="285.80" y2="449.60" stroke="#222" stroke-width="0.7" />
<text transform="translate(282.00,452.20) scale(1,1.1)" font-size="7.4" text-anchor="end" >200</text>
<line x1="283.50" y1="455.20" x2="285.80" y2="455.20" stroke="#222" stroke-width="0.7" />
<text transform="translate(282.00,457.80) scale(1,1.1)" font-size="7.4" text-anchor="end" >100</text>
<line x1="283.50" y1="461.90" x2="285.80" y2="461.90" stroke="#222" stroke-width="0.7" />
<text transform="translate(282.00,464.50) scale(1,1.1)" font-size="7.4" text-anchor="end" >100</text>
<line x1="283.50" y1="481.40" x2="285.80" y2="481.40" stroke="#222" stroke-width="0.7" />
<text transform="translate(282.00,484.00) scale(1,1.1)" font-size="7.4" text-anchor="end" >50</text>
<line x1="283.50" y1="493.30" x2="285.80" y2="493.30" stroke="#222" stroke-width="0.7" />
<text transform="translate(282.00,495.90) scale(1,1.1)" font-size="7.4" text-anchor="end" >20</text>
<line x1="283.50" y1="501.50" x2="285.80" y2="501.50" stroke="#222" stroke-width="0.7" />
<text transform="translate(282.00,504.10) scale(1,1.1)" font-size="7.4" text-anchor="end" >0</text>
<line x1="283.50" y1="513.80" x2="285.80" y2="513.80" stroke="#222" stroke-width="0.7" />
<text transform="translate(282.00,516.40) scale(1,1.1)" font-size="7.4" text-anchor="end" >−30</text>
<line x1="283.50" y1="521.40" x2="285.80" y2="521.40" stroke="#222" stroke-width="0.7" />
<text transform="translate(282.00,524.00) scale(1,1.1)" font-size="7.4" text-anchor="end" >−50</text>
<line x1="283.50" y1="541.90" x2="285.80" y2="541.90" stroke="#222" stroke-width="0.7" />
<text transform="translate(282.00,544.50) scale(1,1.1)" font-size="7.4" text-anchor="end" >−100</text>
<rect x="291.70" y="443.00" width="11.00" height="58.50" fill="#fba13f" stroke="#8a6a3a" stroke-width="0.4"/>
<rect x="291.20" y="456.60" width="12.00" height="3.90" fill="#fff" />
<rect x="314.28" y="443.00" width="11.00" height="58.50" fill="#fba13f" stroke="#8a6a3a" stroke-width="0.4"/>
<rect x="313.78" y="456.60" width="12.00" height="3.90" fill="#fff" />
<rect x="336.86" y="465.40" width="11.00" height="36.10" fill="#fba13f" stroke="#8a6a3a" stroke-width="0.4"/>
<rect x="359.44" y="494.70" width="11.00" height="6.80" fill="#fba13f" stroke="#8a6a3a" stroke-width="0.4"/>
<rect x="382.02" y="501.50" width="11.00" height="8.80" fill="#fba13f" stroke="#8a6a3a" stroke-width="0.4"/>
<rect x="404.60" y="501.50" width="11.00" height="9.90" fill="#fba13f" stroke="#8a6a3a" stroke-width="0.4"/>
<rect x="427.18" y="501.50" width="11.00" height="20.20" fill="#fba13f" stroke="#8a6a3a" stroke-width="0.4"/>
<rect x="449.76" y="501.50" width="11.00" height="30.10" fill="#fba13f" stroke="#8a6a3a" stroke-width="0.4"/>
<rect x="472.34" y="501.50" width="11.00" height="30.70" fill="#fba13f" stroke="#8a6a3a" stroke-width="0.4"/>
<rect x="494.92" y="501.50" width="11.00" height="31.50" fill="#fba13f" stroke="#8a6a3a" stroke-width="0.4"/>
<line x1="285.80" y1="501.50" x2="512.00" y2="501.50" stroke="#222" stroke-width="0.8" />
<line x1="284.30" y1="541.90" x2="512.00" y2="541.90" stroke="#222" stroke-width="0.9" />
<line x1="297.20" y1="541.90" x2="297.20" y2="543.90" stroke="#222" stroke-width="0.6" />
<line x1="319.78" y1="541.90" x2="319.78" y2="543.90" stroke="#222" stroke-width="0.6" />
<line x1="342.36" y1="541.90" x2="342.36" y2="543.90" stroke="#222" stroke-width="0.6" />
<line x1="364.94" y1="541.90" x2="364.94" y2="543.90" stroke="#222" stroke-width="0.6" />
<line x1="387.52" y1="541.90" x2="387.52" y2="543.90" stroke="#222" stroke-width="0.6" />
<line x1="410.10" y1="541.90" x2="410.10" y2="543.90" stroke="#222" stroke-width="0.6" />
<line x1="432.68" y1="541.90" x2="432.68" y2="543.90" stroke="#222" stroke-width="0.6" />
<line x1="455.26" y1="541.90" x2="455.26" y2="543.90" stroke="#222" stroke-width="0.6" />
<line x1="477.84" y1="541.90" x2="477.84" y2="543.90" stroke="#222" stroke-width="0.6" />
<line x1="500.42" y1="541.90" x2="500.42" y2="543.90" stroke="#222" stroke-width="0.6" />
<text x="0" y="0" font-size="7.9" text-anchor="end" transform="translate(300.00,547.00) rotate(-90)" >CR2528</text>
<text x="0" y="0" font-size="7.9" text-anchor="end" transform="translate(322.58,547.00) rotate(-90)" >CR6927</text>
<text x="0" y="0" font-size="7.9" text-anchor="end" transform="translate(345.16,547.00) rotate(-90)" >CR5066</text>
<text x="0" y="0" font-size="7.9" text-anchor="end" transform="translate(367.74,547.00) rotate(-90)" >CR6243</text>
<text x="0" y="0" font-size="7.9" text-anchor="end" transform="translate(390.32,547.00) rotate(-90)" >CR2654</text>
<text x="0" y="0" font-size="7.9" text-anchor="end" transform="translate(412.90,547.00) rotate(-90)" >CR0047</text>
<text x="0" y="0" font-size="7.9" text-anchor="end" transform="translate(435.48,547.00) rotate(-90)" >CR1451</text>
<text x="0" y="0" font-size="7.9" text-anchor="end" transform="translate(458.06,547.00) rotate(-90)" >CR5048</text>
<text x="0" y="0" font-size="7.9" text-anchor="end" transform="translate(480.64,547.00) rotate(-90)" >CR15035</text>
<text x="0" y="0" font-size="7.9" text-anchor="end" transform="translate(503.22,547.00) rotate(-90)" >CR6256</text>
<rect x="396.7" y="447.5" width="120.80000000000001" height="25.399999999999977" fill="#fff" stroke="#ffb400" stroke-width="2"/>
<text transform="translate(457.10,458.80) scale(1,1.1)" font-size="7.7" text-anchor="middle" >D3S-001 at Day 21</text>
<text transform="translate(457.10,468.30) scale(1,1.1)" font-size="7.7" text-anchor="middle" >PDX Panel Response Rate: 40%</text>
<text x="0" y="0" font-size="7.7" text-anchor="middle" transform="translate(251.00,491.50) rotate(-90)" >% Tumor volume change</text>
<text x="0" y="0" font-size="7.7" text-anchor="middle" transform="translate(261.00,491.50) rotate(-90)" >from baseline (%)</text>
<text transform="translate(245.80,607.60) scale(1,1.1)" font-size="11" text-anchor="start" font-weight="bold" >E</text>
<text transform="translate(271.10,607.50) scale(1,1.1)" font-size="7.7" text-anchor="start" >Antitumor activity of D3S-001 and cetuximab in CRC PDX models</text>
<text transform="translate(317.20,622.00) scale(1,1.1)" font-size="7.7" text-anchor="start" >Anti-tumor activity of D3S-001 and Cetuximab</text>
<text transform="translate(320.10,632.10) scale(1,1.1)" font-size="7.7" text-anchor="start" >in a panel of colorectal cancer PDX models</text>
<line x1="288.20" y1="694.40" x2="512.00" y2="694.40" stroke="#222" stroke-width="0.7" stroke-dasharray="1.9,1.5"/>
<line x1="288.20" y1="714.40" x2="512.00" y2="714.40" stroke="#222" stroke-width="0.7" stroke-dasharray="1.9,1.5"/>
<line x1="288.20" y1="644.00" x2="288.20" y2="657.70" stroke="#222" stroke-width="0.9" />
<line x1="288.20" y1="662.40" x2="288.20" y2="742.40" stroke="#222" stroke-width="0.9" />
<line x1="286.70" y1="656.50" x2="289.70" y2="659.50" stroke="#222" stroke-width="0.6" />
<line x1="286.70" y1="660.60" x2="289.70" y2="663.60" stroke="#222" stroke-width="0.6" />
<line x1="285.90" y1="644.00" x2="288.20" y2="644.00" stroke="#222" stroke-width="0.7" />
<text transform="translate(284.40,646.60) scale(1,1.1)" font-size="7.4" text-anchor="end" >300</text>
<line x1="285.90" y1="650.80" x2="288.20" y2="650.80" stroke="#222" stroke-width="0.7" />
<text transform="translate(284.40,653.40) scale(1,1.1)" font-size="7.4" text-anchor="end" >200</text>
<line x1="285.90" y1="657.00" x2="288.20" y2="657.00" stroke="#222" stroke-width="0.7" />
<text transform="translate(284.40,659.60) scale(1,1.1)" font-size="7.4" text-anchor="end" >100</text>
<line x1="285.90" y1="663.70" x2="288.20" y2="663.70" stroke="#222" stroke-width="0.7" />
<text transform="translate(284.40,666.30) scale(1,1.1)" font-size="7.4" text-anchor="end" >100</text>
<line x1="285.90" y1="682.30" x2="288.20" y2="682.30" stroke="#222" stroke-width="0.7" />
<text transform="translate(284.40,684.90) scale(1,1.1)" font-size="7.4" text-anchor="end" >50</text>
<line x1="285.90" y1="694.40" x2="288.20" y2="694.40" stroke="#222" stroke-width="0.7" />
<text transform="translate(284.40,697.00) scale(1,1.1)" font-size="7.4" text-anchor="end" >20</text>
<line x1="285.90" y1="702.40" x2="288.20" y2="702.40" stroke="#222" stroke-width="0.7" />
<text transform="translate(284.40,705.00) scale(1,1.1)" font-size="7.4" text-anchor="end" >0</text>
<line x1="285.90" y1="714.70" x2="288.20" y2="714.70" stroke="#222" stroke-width="0.7" />
<text transform="translate(284.40,717.30) scale(1,1.1)" font-size="7.4" text-anchor="end" >−30</text>
<line x1="285.90" y1="722.70" x2="288.20" y2="722.70" stroke="#222" stroke-width="0.7" />
<text transform="translate(284.40,725.30) scale(1,1.1)" font-size="7.4" text-anchor="end" >−50</text>
<line x1="285.90" y1="742.40" x2="288.20" y2="742.40" stroke="#222" stroke-width="0.7" />
<text transform="translate(284.40,745.00) scale(1,1.1)" font-size="7.4" text-anchor="end" >−100</text>
<rect x="294.50" y="702.40" width="10.80" height="35.20" fill="#1a9a5e" stroke="#1a9a5e" stroke-width="0.4"/>
<rect x="316.82" y="648.90" width="10.80" height="53.50" fill="#1a9a5e" stroke="#1a9a5e" stroke-width="0.4"/>
<rect x="316.32" y="658.00" width="11.80" height="4.10" fill="#fff" />
<rect x="339.14" y="702.40" width="10.80" height="37.30" fill="#1a9a5e" stroke="#1a9a5e" stroke-width="0.4"/>
<rect x="361.46" y="702.40" width="10.80" height="2.80" fill="#1a9a5e" stroke="#1a9a5e" stroke-width="0.4"/>
<rect x="383.78" y="702.40" width="10.80" height="24.10" fill="#1a9a5e" stroke="#1a9a5e" stroke-width="0.4"/>
<rect x="406.10" y="702.40" width="10.80" height="31.40" fill="#1a9a5e" stroke="#1a9a5e" stroke-width="0.4"/>
<rect x="428.42" y="702.40" width="10.80" height="39.60" fill="#1a9a5e" stroke="#1a9a5e" stroke-width="0.4"/>
<rect x="450.74" y="702.40" width="10.80" height="39.60" fill="#1a9a5e" stroke="#1a9a5e" stroke-width="0.4"/>
<rect x="473.06" y="702.40" width="10.80" height="38.10" fill="#1a9a5e" stroke="#1a9a5e" stroke-width="0.4"/>
<rect x="495.38" y="702.40" width="10.80" height="39.60" fill="#1a9a5e" stroke="#1a9a5e" stroke-width="0.4"/>
<line x1="288.20" y1="702.40" x2="512.00" y2="702.40" stroke="#222" stroke-width="0.8" />
<line x1="286.70" y1="742.40" x2="512.00" y2="742.40" stroke="#222" stroke-width="0.9" />
<line x1="299.90" y1="742.40" x2="299.90" y2="744.40" stroke="#222" stroke-width="0.6" />
<line x1="322.22" y1="742.40" x2="322.22" y2="744.40" stroke="#222" stroke-width="0.6" />
<line x1="344.54" y1="742.40" x2="344.54" y2="744.40" stroke="#222" stroke-width="0.6" />
<line x1="366.86" y1="742.40" x2="366.86" y2="744.40" stroke="#222" stroke-width="0.6" />
<line x1="389.18" y1="742.40" x2="389.18" y2="744.40" stroke="#222" stroke-width="0.6" />
<line x1="411.50" y1="742.40" x2="411.50" y2="744.40" stroke="#222" stroke-width="0.6" />
<line x1="433.82" y1="742.40" x2="433.82" y2="744.40" stroke="#222" stroke-width="0.6" />
<line x1="456.14" y1="742.40" x2="456.14" y2="744.40" stroke="#222" stroke-width="0.6" />
<line x1="478.46" y1="742.40" x2="478.46" y2="744.40" stroke="#222" stroke-width="0.6" />
<line x1="500.78" y1="742.40" x2="500.78" y2="744.40" stroke="#222" stroke-width="0.6" />
<text x="0" y="0" font-size="7.9" text-anchor="end" transform="translate(302.30,747.70) rotate(-90)" >CR2528</text>
<text x="0" y="0" font-size="7.9" text-anchor="end" transform="translate(324.62,747.70) rotate(-90)" >CR6927</text>
<text x="0" y="0" font-size="7.9" text-anchor="end" transform="translate(346.94,747.70) rotate(-90)" >CR5066</text>
<text x="0" y="0" font-size="7.9" text-anchor="end" transform="translate(369.26,747.70) rotate(-90)" >CR6243</text>
<text x="0" y="0" font-size="7.9" text-anchor="end" transform="translate(391.58,747.70) rotate(-90)" >CR2654</text>
<text x="0" y="0" font-size="7.9" text-anchor="end" transform="translate(413.90,747.70) rotate(-90)" >CR0047</text>
<text x="0" y="0" font-size="7.9" text-anchor="end" transform="translate(436.22,747.70) rotate(-90)" >CR1451</text>
<text x="0" y="0" font-size="7.9" text-anchor="end" transform="translate(458.54,747.70) rotate(-90)" >CR5048</text>
<text x="0" y="0" font-size="7.9" text-anchor="end" transform="translate(480.86,747.70) rotate(-90)" >CR15035</text>
<text x="0" y="0" font-size="7.9" text-anchor="end" transform="translate(503.18,747.70) rotate(-90)" >CR6256</text>
<rect x="398.9" y="648.9" width="119.39999999999998" height="25.300000000000068" fill="#fff" stroke="#22ad42" stroke-width="2"/>
<text transform="translate(458.60,660.20) scale(1,1.1)" font-size="7.7" text-anchor="middle" >D3S-001 + Cetuximab at Day 21</text>
<text transform="translate(458.60,669.70) scale(1,1.1)" font-size="7.7" text-anchor="middle" >PDX Panel Response Rate: 80%</text>
<text x="0" y="0" font-size="7.7" text-anchor="middle" transform="translate(251.30,692.50) rotate(-90)" >% Tumor volume change</text>
<text x="0" y="0" font-size="7.7" text-anchor="middle" transform="translate(262.00,692.50) rotate(-90)" >from baseline (%)</text>
</svg></body></html>
